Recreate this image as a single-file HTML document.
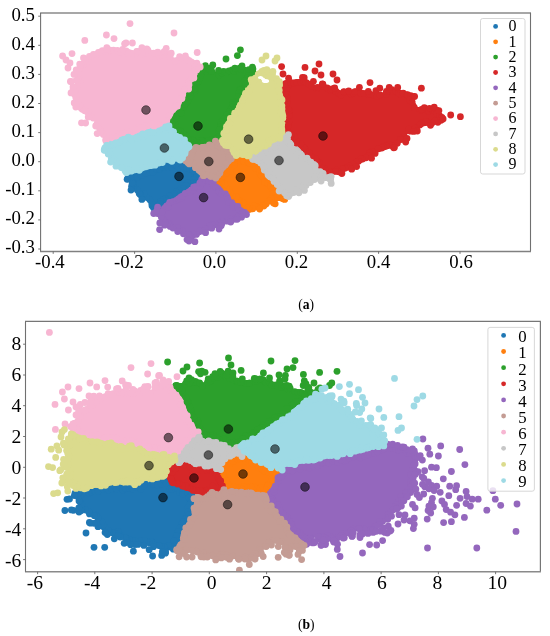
<!DOCTYPE html>
<html lang="en"><head><meta charset="utf-8"><title>Cluster scatter plots</title>
<style>html,body{margin:0;padding:0;background:#fff}svg{display:block}svg text{font-family:"Liberation Serif","Times New Roman",serif;fill:#000}</style></head>
<body>
<svg width="550" height="636" viewBox="0 0 550 636">
<rect width="550" height="636" fill="#fff"/>
<clipPath id="ca"><rect x="40.6" y="12.9" width="489.9" height="238.54999999999998"/></clipPath>
<g clip-path="url(#ca)">
<polygon fill="#1f77b4" stroke="#1f77b4" stroke-width="1.2" stroke-linejoin="round" points="170,200 186,190 200,180 201,178 193,168 184,162 166,163 154,168 138,172 126.5,174.7 127.8,176 127.9,176.1 128,176.3 128.1,176.4 128.2,176.6 128.3,176.8 131.2,186.3 138.9,194 148.8,201.9 148.9,202.1 149,202.2 155,209.1 155.8,209.9 156.2,210.1"/>
<polygon fill="#ff7f0e" stroke="#ff7f0e" stroke-width="1.2" stroke-linejoin="round" points="230,164 223,172 215,180 215,182 226,192 236,203 246.2,211.4 246.3,211.2 246.4,211.1 246.6,210.9 246.7,210.8 246.9,210.7 247.1,210.6 247.2,210.5 249.6,209.8 249.8,209.7 264.5,206.8 273.1,201 273.3,200.9 273.5,200.8 273.7,200.8 273.9,200.7 274.1,200.7 286.2,199.8 286.7,198.6 286.8,198.4 286.9,198.3 278,193 277,187 266,177 260,166 249,158 234,157"/>
<polygon fill="#2ca02c" stroke="#2ca02c" stroke-width="1.2" stroke-linejoin="round" points="195,80 190,90 186,94 180,108 174,113 169,123 176,132 185,138 193,146 206,144 220,140 223,130 227,119 236,108 242,94 245,90 250,79 255.4,72.7 255.2,72.6 255.1,72.5 254.9,72.4 254.8,72.3 254.7,72.2 254.6,72 254.5,71.8 253.4,69.7 250.9,71 250.7,71.1 250.5,71.2 250.3,71.2 250.2,71.2 250,71.2 249.8,71.2 249.6,71.2 249.4,71.1 249.3,71.1 249.1,71 240.9,66.4 230.6,70.2 230.4,70.2 230.2,70.3 230.1,70.3 229.9,70.3 229.7,70.3 222.2,69.3 217.1,71.9 216.9,72 216.7,72 216.5,72.1 216.4,72.1 216.2,72.1 216,72.1 215.8,72.1 215.6,72 215.4,71.9 215.3,71.8 215.1,71.7 214.9,71.6 214.8,71.5 214.7,71.3 214.6,71.2 211.5,65.7 202.8,70 202.7,70.1 202.5,70.2 202.3,70.2 202.1,70.2 201.9,70.2 201.7,70.2 201.5,70.2 201.3,70.1 201.2,70 199.8,69.3 199.6,69.2 199.5,69.2"/>
<polygon fill="#d62728" stroke="#d62728" stroke-width="1.2" stroke-linejoin="round" points="283,96 285,110 285,120 285,133 294,144 304,153 314,162 320,169 327,175 327.1,175 327.1,174.8 327.2,174.7 327.3,174.5 327.4,174.4 327.5,174.2 327.7,174.1 327.8,174 328,173.9 328.2,173.8 328.3,173.8 328.5,173.7 328.7,173.7 328.9,173.7 335.8,173.7 349.5,168.4 366,159.6 377.2,152 377.4,151.9 377.5,151.8 377.7,151.7 394,146.8 397.1,144.1 397.2,144 397.3,143.9 397.5,143.8 404.5,140.1 406.7,134.3 406.8,134.1 406.9,133.9 407,133.8 407.1,133.6 407.2,133.5 407.4,133.4 407.5,133.3 407.7,133.2 416.2,129.3 423.4,125.9 423.5,125.8 423.7,125.7 423.8,125.7 436.7,123.3 442.4,119.5 439.9,113.7 436.9,109.8 430.7,109.8 430.6,109.8 430.4,109.8 430.2,109.7 430,109.7 429.9,109.6 423.8,106.4 418.6,107.7 418.4,107.7 418.2,107.7 418,107.8 417.9,107.7 417.7,107.7 417.5,107.7 417.3,107.6 417.2,107.5 417,107.4 412.6,104.3 412.4,104.2 412.3,104.1 412.2,103.9 412.1,103.8 412,103.6 411.9,103.4 411.8,103.2 411.8,103 411.8,102.8 411.8,102.7 411.8,102.5 411.8,102.3 413.2,97.1 408.8,92.8 400.7,90.7 400.6,90.6 392.1,87.9 385.7,91.6 385.4,91.7 379.2,94.2 379,94.2 378.8,94.3 378.6,94.3 378.4,94.3 378.2,94.3 369.3,92.8 369.2,92.8 362,91.3 355.1,89.9 348.4,92.6 348.2,92.7 348,92.7 347.8,92.8 347.6,92.8 347.4,92.8 347.3,92.7 340.3,91.3 340.1,91.2 339.9,91.1 332.5,87.7 325.8,85.3 314.2,85.3 314,85.3 313.9,85.3 313.7,85.2 313.5,85.2 313.4,85.1 313.2,85 313.1,84.9 305.6,79.3 290.4,80.3 283.7,84.1 283.6,84.2 282.1,84.9 281.9,85 281.8,85 281.6,85.1 281.4,85.1 281.2,85.1 281.2,85.1"/>
<polygon fill="#9467bd" stroke="#9467bd" stroke-width="1.2" stroke-linejoin="round" points="236,203 226,192 215,182 215,180 214,179 201,178 200,180 186,190 170,200 156.2,210.1 157.3,210.7 157.5,210.8 157.7,210.9 157.8,211.1 158,211.2 158.1,211.4 158.2,211.5 158.3,211.7 158.3,211.9 160.2,218.4 164.8,224.9 174.4,228.8 174.6,228.8 174.7,228.9 184.6,234.9 184.8,234.9 184.9,235 190.2,239.5 211.4,228.8 211.5,228.8 218.4,225.8 225.3,221.9 225.5,221.8 225.7,221.7 239.5,217.8 246.3,213.5 246.1,213.2 246.1,213 246,212.8 246,212.7 245.9,212.5 245.9,212.3 246,212.1 246,211.9 246.1,211.7 246.1,211.5 246.2,211.4 246.2,211.4"/>
<polygon fill="#c49c94" stroke="#c49c94" stroke-width="1.2" stroke-linejoin="round" points="187,154 184,162 193,168 201,178 214,179 215,180 223,172 230,164 234,157 229,150 221,146 220,140 206,144 193,146"/>
<polygon fill="#f7b6d2" stroke="#f7b6d2" stroke-width="1.2" stroke-linejoin="round" points="108,142 120,137 134,135 150,129 162,127 169,123 174,113 180,108 186,94 190,90 195,80 199.5,69.2 199.4,69.1 199.3,69 199.2,68.9 199,68.7 198.9,68.5 198.9,68.4 198.8,68.2 198.7,68 198.7,67.8 198.7,67.6 198.7,63.7 192.4,59.2 183,56.3 174.7,58.2 174.5,58.2 174.3,58.2 174.1,58.2 173.9,58.2 173.7,58.2 173.6,58.1 173.4,58 173.2,57.9 173.1,57.8 172.9,57.7 172.8,57.5 172.7,57.4 169.1,51.9 164.1,48.6 157.3,54.6 157.1,54.7 157,54.8 156.8,54.9 156.6,55 156.4,55 156.2,55.1 156.1,55.1 155.9,55.1 155.7,55 155.5,55 155.3,54.9 155.1,54.9 155,54.8 154.8,54.7 154.7,54.5 149.6,49.4 138.5,52.2 138.3,52.3 138.1,52.3 137.9,52.3 137.7,52.2 137.5,52.2 127.9,49.3 118.2,50.3 118,50.3 117.9,50.3 100.5,49.3 93,56.8 92.9,56.9 92.8,57 92.6,57.1 92.5,57.2 92.3,57.3 92.2,57.3 84.6,59.2 78.2,64.7 76.3,76 77.3,83.6 77.3,83.8 77.3,84 77.2,84.2 77.2,84.4 77.1,84.5 77,84.7 76.9,84.9 76.8,85 72.4,90.3 74.2,96.5 74.3,96.7 74.3,96.9 74.3,97.1 74.3,97.3 73.4,103.6 78.9,110 86.7,114.9 86.8,115 94.6,120.8 94.8,121 94.9,121.1 95,121.3 95.1,121.4 95.2,121.6 95.3,121.8 98.2,131.4 104.9,139.1 106.6,140.7 106.7,140.9 106.8,141 106.9,141.2 107,141.3 107,141.5 107.1,141.7 107.1,141.9 107.1,142"/>
<polygon fill="#c7c7c7" stroke="#c7c7c7" stroke-width="1.2" stroke-linejoin="round" points="282,140 272,143 260,152 249,158 260,166 266,177 277,187 278,193 286.9,198.3 286.9,198.3 287,198.2 287.2,198 287.3,197.9 287.4,197.8 287.6,197.7 291.4,195.9 303.3,188.9 313.2,182 313.3,181.9 313.5,181.8 313.7,181.7 313.9,181.7 323.7,179.7 323.9,179.7 330.4,179.1 327.8,177.1 327.6,177 327.5,176.9 327.4,176.8 327.3,176.6 327.2,176.5 327.1,176.3 327,176.1 327,175.9 327,175.7 327,175.6 327,175.4 327,175.2 327.1,175 327,175 320,169 314,162 304,153 294,144 285,133"/>
<polygon fill="#dbdb8d" stroke="#dbdb8d" stroke-width="1.2" stroke-linejoin="round" points="250,79 245,90 242,94 236,108 227,119 223,130 220,140 221,146 229,150 234,157 249,158 260,152 272,143 282,140 285,133 285,120 285,110 283,96 281.2,85.1 281,85.1 280.8,85 280.7,85 280.5,84.9 280.3,84.8 280.2,84.7 280,84.6 279.9,84.5 279.8,84.4 279.7,84.2 279.6,84 276.9,78.7 271.2,72.1 263.1,68.5 258.8,71 257.5,72.3 257.4,72.5 257.2,72.6 257.1,72.7 256.9,72.7 256.7,72.8 256.5,72.9 256.3,72.9 256.1,72.9 256,72.9 255.8,72.8 255.6,72.8 255.4,72.7 255.4,72.7"/>
<polygon fill="#9edae5" stroke="#9edae5" stroke-width="1.2" stroke-linejoin="round" points="138,172 154,168 166,163 184,162 187,154 193,146 185,138 176,132 169,123 162,127 150,129 134,135 120,137 108,142 107.1,142 107.1,142.1 107.1,142.3 107.1,142.4 107,142.6 107,142.8 106.9,143 106.8,143.1 103.3,148.4 103.3,151.4 109.8,157 109.9,157.1 110,157.2 110.1,157.3 116,166.1 124.8,173 124.9,173.1 125.9,174.1 126.5,174.7"/>
<g fill="#1f77b4">
<polygon points="128,175.9 128.1,175.9 128.2,176 128.2,176.2 128.3,176.3 128.4,176.4 128.4,176.6 131.3,186.2 139,193.9 148.9,201.8 149,201.9 149.1,202 155.1,209 155.2,209 169.1,198.8 169.2,198.7 185.2,188.8 198.8,179 199.2,178.2 192,169.1 183.6,163.5 166.3,164.5 154.6,169.4 154.5,169.4 154.4,169.5 138.4,173.5 138.3,173.5"/>
<circle cx="127.1" cy="179.3" r="3.4"/>
<circle cx="132" cy="178.3" r="3.4"/>
<circle cx="132.5" cy="177.4" r="3.4"/>
<circle cx="137.6" cy="177.1" r="3.4"/>
<circle cx="140.9" cy="175.1" r="3.4"/>
<circle cx="142.5" cy="175.5" r="3.4"/>
<circle cx="146.2" cy="173.6" r="3.4"/>
<circle cx="150.2" cy="172.5" r="3.4"/>
<circle cx="152.9" cy="172.2" r="3.4"/>
<circle cx="156.8" cy="169.5" r="3.4"/>
<circle cx="159.5" cy="168.9" r="3.4"/>
<circle cx="163.6" cy="167.5" r="3.4"/>
<circle cx="165.3" cy="165.4" r="3.4"/>
<circle cx="168.1" cy="167.7" r="3.4"/>
<circle cx="171.5" cy="167.4" r="3.4"/>
<circle cx="175" cy="164.9" r="3.4"/>
<circle cx="176.2" cy="165" r="3.4"/>
<circle cx="178.5" cy="167.1" r="3.4"/>
<circle cx="181.3" cy="164.3" r="3.4"/>
<circle cx="182.3" cy="165.9" r="3.4"/>
<circle cx="187.1" cy="166.8" r="3.4"/>
<circle cx="186.8" cy="167.8" r="3.4"/>
<circle cx="190" cy="169.6" r="3.4"/>
<circle cx="192.7" cy="170.1" r="3.4"/>
<circle cx="194.6" cy="174.4" r="3.4"/>
<circle cx="195.1" cy="177.3" r="3.4"/>
<circle cx="196.8" cy="178" r="3.4"/>
<circle cx="196.1" cy="177.6" r="3.4"/>
<circle cx="196.6" cy="177.3" r="3.4"/>
<circle cx="193.8" cy="179.7" r="3.4"/>
<circle cx="193.5" cy="183" r="3.4"/>
<circle cx="190.6" cy="183.5" r="3.4"/>
<circle cx="187.7" cy="182.8" r="3.4"/>
<circle cx="185.9" cy="185.5" r="3.4"/>
<circle cx="183" cy="188.4" r="3.4"/>
<circle cx="179.1" cy="190.2" r="3.4"/>
<circle cx="176.2" cy="191.8" r="3.4"/>
<circle cx="174.3" cy="194.2" r="3.4"/>
<circle cx="173.5" cy="195.6" r="3.4"/>
<circle cx="169.5" cy="196.2" r="3.4"/>
<circle cx="165.4" cy="198.6" r="3.4"/>
<circle cx="163" cy="199.7" r="3.4"/>
<circle cx="160.6" cy="201.4" r="3.4"/>
<circle cx="160.2" cy="204.2" r="3.4"/>
<circle cx="156.2" cy="205.6" r="3.4"/>
<circle cx="153.6" cy="208.1" r="3.4"/>
<circle cx="157.6" cy="208" r="3.4"/>
<circle cx="155" cy="206" r="3.4"/>
<circle cx="152" cy="205.8" r="3.4"/>
<circle cx="151.8" cy="203.4" r="3.4"/>
<circle cx="149.8" cy="199.8" r="3.4"/>
<circle cx="146.5" cy="197.3" r="3.4"/>
<circle cx="143.9" cy="193.6" r="3.4"/>
<circle cx="140.4" cy="194.7" r="3.4"/>
<circle cx="139.2" cy="193.4" r="3.4"/>
<circle cx="137.3" cy="190.1" r="3.4"/>
<circle cx="133.6" cy="187.4" r="3.4"/>
<circle cx="131.6" cy="186.2" r="3.4"/>
<circle cx="133.4" cy="183.6" r="3.4"/>
<circle cx="132.1" cy="182.7" r="3.4"/>
<circle cx="130.3" cy="177.7" r="3.4"/>
<circle cx="127.6" cy="173.1" r="3.4"/>
<circle cx="141.9" cy="199.4" r="3.4"/>
<circle cx="131" cy="190.1" r="3.4"/>
<circle cx="127.7" cy="178.8" r="3.4"/>
</g>
<g fill="#ff7f0e">
<polygon points="234.8,158.6 231.3,164.7 231.2,164.9 231.1,165 224.1,173 224.1,173.1 216.5,180.6 216.5,181.3 227,190.9 227.1,191 237,201.9 247.3,210.3 249.5,209.6 249.7,209.5 264.4,206.6 273.2,200.8 273.3,200.7 273.4,200.6 273.6,200.6 273.7,200.5 273.9,200.5 286,199.6 277.2,194.3 277.1,194.2 277,194.1 276.9,194 276.8,193.9 276.7,193.8 276.7,193.7 276.6,193.5 276.6,193.4 276.5,193.2 275.6,187.8 265,178.1 264.9,178 264.8,177.9 264.7,177.7 258.8,167 248.5,159.5"/>
<circle cx="236.3" cy="161.9" r="3.4"/>
<circle cx="239.4" cy="160.7" r="3.4"/>
<circle cx="240.3" cy="161.4" r="3.4"/>
<circle cx="243.7" cy="161.5" r="3.4"/>
<circle cx="248.3" cy="162.8" r="3.4"/>
<circle cx="248.4" cy="162.4" r="3.4"/>
<circle cx="250" cy="163.3" r="3.4"/>
<circle cx="253.5" cy="164.3" r="3.4"/>
<circle cx="255.3" cy="165.6" r="3.4"/>
<circle cx="257.9" cy="168.6" r="3.4"/>
<circle cx="256.1" cy="168.6" r="3.4"/>
<circle cx="259.6" cy="172.2" r="3.4"/>
<circle cx="261.1" cy="175.3" r="3.4"/>
<circle cx="262" cy="176.1" r="3.4"/>
<circle cx="264.4" cy="182" r="3.4"/>
<circle cx="268" cy="183.5" r="3.4"/>
<circle cx="270.7" cy="185" r="3.4"/>
<circle cx="270.7" cy="186.5" r="3.4"/>
<circle cx="273.7" cy="188.1" r="3.4"/>
<circle cx="272.5" cy="189.3" r="3.4"/>
<circle cx="273.3" cy="193.7" r="3.4"/>
<circle cx="279.3" cy="196" r="3.4"/>
<circle cx="281.9" cy="196.9" r="3.4"/>
<circle cx="282.2" cy="198.2" r="3.4"/>
<circle cx="284.7" cy="199.4" r="3.4"/>
<circle cx="283.2" cy="198.8" r="3.4"/>
<circle cx="284" cy="196.4" r="3.4"/>
<circle cx="282.6" cy="197.5" r="3.4"/>
<circle cx="277.2" cy="197.3" r="3.4"/>
<circle cx="274" cy="199.1" r="3.4"/>
<circle cx="271.2" cy="198.7" r="3.4"/>
<circle cx="269.2" cy="201.1" r="3.4"/>
<circle cx="266.1" cy="203.9" r="3.4"/>
<circle cx="263.7" cy="204.8" r="3.4"/>
<circle cx="263.8" cy="206.1" r="3.4"/>
<circle cx="259.7" cy="207.5" r="3.4"/>
<circle cx="256.4" cy="206.8" r="3.4"/>
<circle cx="254" cy="205.9" r="3.4"/>
<circle cx="252.7" cy="208.9" r="3.4"/>
<circle cx="249" cy="209.6" r="3.4"/>
<circle cx="247.9" cy="208.2" r="3.4"/>
<circle cx="246.5" cy="207.4" r="3.4"/>
<circle cx="242.5" cy="204.1" r="3.4"/>
<circle cx="242.8" cy="202.6" r="3.4"/>
<circle cx="239.6" cy="200.9" r="3.4"/>
<circle cx="238.2" cy="200.6" r="3.4"/>
<circle cx="236.4" cy="197" r="3.4"/>
<circle cx="232.2" cy="196.1" r="3.4"/>
<circle cx="230.4" cy="193" r="3.4"/>
<circle cx="229.3" cy="190.1" r="3.4"/>
<circle cx="226.5" cy="188.2" r="3.4"/>
<circle cx="224.5" cy="185.6" r="3.4"/>
<circle cx="224.7" cy="184.2" r="3.4"/>
<circle cx="221.3" cy="182.3" r="3.4"/>
<circle cx="218.2" cy="180.2" r="3.4"/>
<circle cx="219.8" cy="181.1" r="3.4"/>
<circle cx="217.7" cy="180" r="3.4"/>
<circle cx="220.8" cy="178.6" r="3.4"/>
<circle cx="221.3" cy="177.4" r="3.4"/>
<circle cx="223.3" cy="176" r="3.4"/>
<circle cx="226.8" cy="173.1" r="3.4"/>
<circle cx="228" cy="171.7" r="3.4"/>
<circle cx="230.2" cy="171.2" r="3.4"/>
<circle cx="231.8" cy="166.7" r="3.4"/>
<circle cx="234.1" cy="164.9" r="3.4"/>
<circle cx="234" cy="162.2" r="3.4"/>
<circle cx="234.4" cy="158.9" r="3.4"/>
<circle cx="275.2" cy="203.8" r="3.4"/>
<circle cx="273.5" cy="203" r="3.4"/>
<circle cx="259.6" cy="209.1" r="3.4"/>
</g>
<g fill="#2ca02c">
<polygon points="200.8,70.1 196.4,80.6 196.3,80.7 191.3,90.7 191.3,90.8 191.2,90.9 191.1,91.1 187.3,94.9 181.4,108.6 181.3,108.7 181.2,108.8 181.2,109 181.1,109.1 181,109.2 175.2,114 170.8,122.8 177,130.9 185.8,136.8 186,136.8 186.1,136.9 193.5,144.4 205.7,142.5 218.8,138.8 221.6,129.6 221.6,129.5 225.6,118.5 225.7,118.3 225.7,118.2 225.8,118.1 234.7,107.2 240.6,93.4 240.7,93.2 240.8,93.1 243.7,89.2 248.6,78.4 248.7,78.3 248.8,78.1 248.9,78 254.2,71.8 253.3,70 250.7,71.3 250.5,71.4 250.4,71.4 250.3,71.5 250.1,71.5 250,71.5 249.8,71.5 249.7,71.5 249.5,71.4 249.4,71.4 249.3,71.3 240.9,66.6 230.5,70.4 230.4,70.5 230.2,70.5 230.1,70.5 230,70.5 229.8,70.5 222.3,69.5 216.7,72.3 216.5,72.4 216.4,72.4 216.2,72.5 216.1,72.5 215.9,72.5 215.8,72.5 215.6,72.5 215.5,72.4 215.4,72.4 215.2,72.3 215.1,72.2 215,72.1 214.9,72 214.8,71.9 214.7,71.7 211.4,66 202.7,70.3 202.5,70.4 202.4,70.5 202.2,70.5 202.1,70.5 201.9,70.5 201.8,70.5 201.6,70.5 201.5,70.4 201.3,70.3"/>
<circle cx="199.3" cy="70.9" r="3.4"/>
<circle cx="206" cy="71.4" r="3.4"/>
<circle cx="208.4" cy="69.7" r="3.4"/>
<circle cx="209.6" cy="69.2" r="3.4"/>
<circle cx="211" cy="68.2" r="3.4"/>
<circle cx="209.9" cy="68.1" r="3.4"/>
<circle cx="209.5" cy="69.3" r="3.4"/>
<circle cx="211.6" cy="71.5" r="3.4"/>
<circle cx="219" cy="74.9" r="3.4"/>
<circle cx="221.7" cy="73.1" r="3.4"/>
<circle cx="223.7" cy="71.5" r="3.4"/>
<circle cx="226.4" cy="72.2" r="3.4"/>
<circle cx="229" cy="70.8" r="3.4"/>
<circle cx="232.2" cy="69.8" r="3.4"/>
<circle cx="234.1" cy="71.3" r="3.4"/>
<circle cx="237.7" cy="69.6" r="3.4"/>
<circle cx="240.3" cy="68" r="3.4"/>
<circle cx="239.6" cy="68.4" r="3.4"/>
<circle cx="244.2" cy="70.2" r="3.4"/>
<circle cx="246.4" cy="72.4" r="3.4"/>
<circle cx="252.8" cy="72.2" r="3.4"/>
<circle cx="252.2" cy="73" r="3.4"/>
<circle cx="252.7" cy="70.7" r="3.4"/>
<circle cx="250.9" cy="73.1" r="3.4"/>
<circle cx="248.8" cy="74.4" r="3.4"/>
<circle cx="247.3" cy="78.1" r="3.4"/>
<circle cx="244.3" cy="81.2" r="3.4"/>
<circle cx="245.7" cy="84.1" r="3.4"/>
<circle cx="241.7" cy="88.4" r="3.4"/>
<circle cx="240" cy="89.3" r="3.4"/>
<circle cx="240.4" cy="90.1" r="3.4"/>
<circle cx="238.9" cy="92.9" r="3.4"/>
<circle cx="238.5" cy="96.6" r="3.4"/>
<circle cx="236.2" cy="101.3" r="3.4"/>
<circle cx="233.2" cy="102.5" r="3.4"/>
<circle cx="232.6" cy="104.5" r="3.4"/>
<circle cx="232.6" cy="107.2" r="3.4"/>
<circle cx="230.7" cy="109.7" r="3.4"/>
<circle cx="229.3" cy="111.8" r="3.4"/>
<circle cx="229.3" cy="113.8" r="3.4"/>
<circle cx="226.5" cy="115.2" r="3.4"/>
<circle cx="224" cy="118.6" r="3.4"/>
<circle cx="222" cy="121.4" r="3.4"/>
<circle cx="220.6" cy="125.2" r="3.4"/>
<circle cx="220.7" cy="127" r="3.4"/>
<circle cx="219.3" cy="129.8" r="3.4"/>
<circle cx="218.5" cy="134.5" r="3.4"/>
<circle cx="215.6" cy="138.5" r="3.4"/>
<circle cx="218.9" cy="136.5" r="3.4"/>
<circle cx="216.1" cy="139" r="3.4"/>
<circle cx="212" cy="140.9" r="3.4"/>
<circle cx="210.4" cy="140.2" r="3.4"/>
<circle cx="207.9" cy="140.5" r="3.4"/>
<circle cx="202.2" cy="140.5" r="3.4"/>
<circle cx="201.2" cy="140.5" r="3.4"/>
<circle cx="197.2" cy="142.4" r="3.4"/>
<circle cx="193" cy="142.2" r="3.4"/>
<circle cx="194.5" cy="143.7" r="3.4"/>
<circle cx="193" cy="140.6" r="3.4"/>
<circle cx="190.5" cy="139.5" r="3.4"/>
<circle cx="187.9" cy="138.9" r="3.4"/>
<circle cx="185.8" cy="135.8" r="3.4"/>
<circle cx="183.4" cy="134.2" r="3.4"/>
<circle cx="179.6" cy="132.7" r="3.4"/>
<circle cx="180.1" cy="130.7" r="3.4"/>
<circle cx="178" cy="130.3" r="3.4"/>
<circle cx="175.1" cy="125.6" r="3.4"/>
<circle cx="174.8" cy="122.8" r="3.4"/>
<circle cx="172" cy="121.4" r="3.4"/>
<circle cx="172.5" cy="122.8" r="3.4"/>
<circle cx="173.5" cy="119.7" r="3.4"/>
<circle cx="176.4" cy="118.1" r="3.4"/>
<circle cx="176.5" cy="115.8" r="3.4"/>
<circle cx="177.6" cy="113.7" r="3.4"/>
<circle cx="177.2" cy="111.9" r="3.4"/>
<circle cx="181.4" cy="113" r="3.4"/>
<circle cx="183.8" cy="107.1" r="3.4"/>
<circle cx="185" cy="104.3" r="3.4"/>
<circle cx="186" cy="102.7" r="3.4"/>
<circle cx="187.9" cy="100.8" r="3.4"/>
<circle cx="189" cy="97.5" r="3.4"/>
<circle cx="190.7" cy="96.1" r="3.4"/>
<circle cx="189.4" cy="93" r="3.4"/>
<circle cx="195.5" cy="89.9" r="3.4"/>
<circle cx="194.6" cy="89" r="3.4"/>
<circle cx="195.1" cy="83.4" r="3.4"/>
<circle cx="197.5" cy="82.5" r="3.4"/>
<circle cx="198.5" cy="81.1" r="3.4"/>
<circle cx="199.8" cy="78.3" r="3.4"/>
<circle cx="200.7" cy="75.2" r="3.4"/>
<circle cx="202.4" cy="69.7" r="3.4"/>
<circle cx="200.1" cy="68" r="3.4"/>
<circle cx="205.4" cy="65.7" r="3.4"/>
<circle cx="212.8" cy="65" r="3.4"/>
<circle cx="218.6" cy="70.3" r="3.4"/>
<circle cx="234.9" cy="68.2" r="3.4"/>
<circle cx="248.9" cy="69.6" r="3.4"/>
<circle cx="252.4" cy="67.1" r="3.4"/>
<circle cx="226" cy="59" r="3.4"/>
<circle cx="237.4" cy="55.6" r="3.4"/>
<circle cx="240.4" cy="49.8" r="3.4"/>
<circle cx="242" cy="66" r="3.4"/>
<circle cx="253" cy="69" r="3.4"/>
</g>
<g fill="#d62728">
<polygon points="282.7,84.8 284.5,95.8 284.5,95.8 286.5,109.8 286.5,110 286.5,132.5 295.1,143 315,160.9 315.1,161 321.1,167.9 327.6,173.5 335.7,173.5 349.4,168.2 365.9,159.4 377.2,151.8 377.3,151.7 377.4,151.6 377.6,151.6 393.9,146.7 397,143.9 397.1,143.8 397.2,143.7 397.3,143.7 404.3,139.9 406.6,134 406.7,133.8 406.7,133.7 406.8,133.6 406.9,133.5 407,133.4 407.1,133.3 407.2,133.2 407.4,133.1 416.2,129.1 423.3,125.7 423.5,125.6 423.6,125.6 423.7,125.5 436.6,123.1 442.1,119.4 439.7,113.8 436.8,110 430.6,110 430.5,110 430.3,110 430.2,109.9 430,109.9 429.9,109.8 423.8,106.6 418.4,108 418.2,108 418.1,108 417.9,108 417.8,108 417.7,108 417.5,107.9 417.4,107.9 417.3,107.8 417.1,107.7 412.1,104.2 412,104.1 411.9,104 411.8,103.9 411.7,103.8 411.7,103.7 411.6,103.5 411.5,103.4 411.5,103.2 411.5,103.1 411.5,102.9 411.5,102.8 411.5,102.6 412.9,97.2 408.7,92.9 400.6,90.9 400.5,90.8 392.2,88.1 385.7,91.8 385.5,91.9 379.1,94.4 379,94.4 378.8,94.5 378.7,94.5 378.5,94.5 378.4,94.5 369.3,93 369.2,93 362,91.5 355.1,90.1 348.3,92.9 348.1,92.9 348,93 347.8,93 347.7,93 347.5,93 347.4,93 340.2,91.5 340,91.4 339.9,91.4 332.4,87.9 325.7,85.5 314,85.5 313.9,85.5 313.7,85.5 313.6,85.4 313.5,85.4 313.3,85.3 313.2,85.3 313.1,85.2 305.5,79.5 290.4,80.5 283.7,84.3 283.7,84.3"/>
<circle cx="282.4" cy="84.8" r="3.4"/>
<circle cx="285.9" cy="83.3" r="3.4"/>
<circle cx="288.8" cy="84.5" r="3.4"/>
<circle cx="288.8" cy="82.2" r="3.4"/>
<circle cx="290.5" cy="82.6" r="3.4"/>
<circle cx="293.9" cy="83.1" r="3.4"/>
<circle cx="297" cy="82.5" r="3.4"/>
<circle cx="300.8" cy="82.1" r="3.4"/>
<circle cx="304" cy="81.8" r="3.4"/>
<circle cx="306.2" cy="82.7" r="3.4"/>
<circle cx="308.5" cy="83.8" r="3.4"/>
<circle cx="311.6" cy="86.3" r="3.4"/>
<circle cx="316.8" cy="88.7" r="3.4"/>
<circle cx="317.7" cy="87.4" r="3.4"/>
<circle cx="322.7" cy="86.1" r="3.4"/>
<circle cx="323.4" cy="86.4" r="3.4"/>
<circle cx="327.2" cy="87.9" r="3.4"/>
<circle cx="330.5" cy="89.9" r="3.4"/>
<circle cx="331.9" cy="88.9" r="3.4"/>
<circle cx="336" cy="91.5" r="3.4"/>
<circle cx="338.5" cy="93.1" r="3.4"/>
<circle cx="341.1" cy="95" r="3.4"/>
<circle cx="344" cy="92.2" r="3.4"/>
<circle cx="351" cy="94.2" r="3.4"/>
<circle cx="353" cy="92.9" r="3.4"/>
<circle cx="356.3" cy="91.6" r="3.4"/>
<circle cx="354.9" cy="91.6" r="3.4"/>
<circle cx="360.5" cy="93" r="3.4"/>
<circle cx="363.9" cy="93.4" r="3.4"/>
<circle cx="368.5" cy="94.6" r="3.4"/>
<circle cx="369.7" cy="94.1" r="3.4"/>
<circle cx="373.2" cy="95" r="3.4"/>
<circle cx="377.1" cy="96.2" r="3.4"/>
<circle cx="379.8" cy="94.9" r="3.4"/>
<circle cx="386.3" cy="94.3" r="3.4"/>
<circle cx="386.4" cy="91.5" r="3.4"/>
<circle cx="389.1" cy="90.8" r="3.4"/>
<circle cx="392.8" cy="91.6" r="3.4"/>
<circle cx="391.9" cy="89.7" r="3.4"/>
<circle cx="396.2" cy="91.3" r="3.4"/>
<circle cx="398.6" cy="92.9" r="3.4"/>
<circle cx="400.2" cy="93.9" r="3.4"/>
<circle cx="403.2" cy="93.2" r="3.4"/>
<circle cx="407.2" cy="95.2" r="3.4"/>
<circle cx="407.5" cy="94.7" r="3.4"/>
<circle cx="410.7" cy="95.6" r="3.4"/>
<circle cx="413" cy="96.6" r="3.4"/>
<circle cx="409.7" cy="100.2" r="3.4"/>
<circle cx="413.2" cy="105.9" r="3.4"/>
<circle cx="414.4" cy="107.7" r="3.4"/>
<circle cx="420.3" cy="110.5" r="3.4"/>
<circle cx="422" cy="109.4" r="3.4"/>
<circle cx="424.3" cy="107.6" r="3.4"/>
<circle cx="428.5" cy="110.9" r="3.4"/>
<circle cx="432.8" cy="110.4" r="3.4"/>
<circle cx="436.5" cy="110.1" r="3.4"/>
<circle cx="434.8" cy="110.9" r="3.4"/>
<circle cx="436.9" cy="113.5" r="3.4"/>
<circle cx="439.5" cy="115.6" r="3.4"/>
<circle cx="441.5" cy="117.4" r="3.4"/>
<circle cx="441" cy="120.3" r="3.4"/>
<circle cx="442" cy="117.7" r="3.4"/>
<circle cx="437.9" cy="120.4" r="3.4"/>
<circle cx="437.9" cy="122.3" r="3.4"/>
<circle cx="434.9" cy="121" r="3.4"/>
<circle cx="432" cy="123.1" r="3.4"/>
<circle cx="427.2" cy="122.2" r="3.4"/>
<circle cx="425.9" cy="121.6" r="3.4"/>
<circle cx="421.1" cy="123.2" r="3.4"/>
<circle cx="419.7" cy="125.1" r="3.4"/>
<circle cx="416.4" cy="128.1" r="3.4"/>
<circle cx="415" cy="128.1" r="3.4"/>
<circle cx="410.5" cy="131.2" r="3.4"/>
<circle cx="408.7" cy="129.2" r="3.4"/>
<circle cx="404" cy="136.5" r="3.4"/>
<circle cx="402.3" cy="139.1" r="3.4"/>
<circle cx="404.2" cy="139.3" r="3.4"/>
<circle cx="400.4" cy="139.4" r="3.4"/>
<circle cx="397.3" cy="143.3" r="3.4"/>
<circle cx="393.7" cy="145.4" r="3.4"/>
<circle cx="392.2" cy="145.8" r="3.4"/>
<circle cx="389.1" cy="144.7" r="3.4"/>
<circle cx="386.3" cy="145.8" r="3.4"/>
<circle cx="383.5" cy="146.8" r="3.4"/>
<circle cx="381.7" cy="148" r="3.4"/>
<circle cx="378.3" cy="148.8" r="3.4"/>
<circle cx="375.1" cy="153.4" r="3.4"/>
<circle cx="371.8" cy="151.6" r="3.4"/>
<circle cx="369.7" cy="152.9" r="3.4"/>
<circle cx="368.5" cy="156" r="3.4"/>
<circle cx="366" cy="157.8" r="3.4"/>
<circle cx="362.6" cy="159.1" r="3.4"/>
<circle cx="360.8" cy="158.9" r="3.4"/>
<circle cx="358.5" cy="161.3" r="3.4"/>
<circle cx="356.3" cy="162.1" r="3.4"/>
<circle cx="353" cy="164.1" r="3.4"/>
<circle cx="349.3" cy="166.1" r="3.4"/>
<circle cx="346.9" cy="167.3" r="3.4"/>
<circle cx="344.8" cy="168.3" r="3.4"/>
<circle cx="342.4" cy="168.9" r="3.4"/>
<circle cx="338.9" cy="171.8" r="3.4"/>
<circle cx="336.8" cy="170.1" r="3.4"/>
<circle cx="335.5" cy="171.4" r="3.4"/>
<circle cx="330" cy="173.1" r="3.4"/>
<circle cx="329.2" cy="173.6" r="3.4"/>
<circle cx="329" cy="171.7" r="3.4"/>
<circle cx="324.8" cy="168.8" r="3.4"/>
<circle cx="322.7" cy="168.3" r="3.4"/>
<circle cx="321.2" cy="167.9" r="3.4"/>
<circle cx="319" cy="162.4" r="3.4"/>
<circle cx="316.7" cy="161" r="3.4"/>
<circle cx="315.7" cy="158.8" r="3.4"/>
<circle cx="311" cy="156.4" r="3.4"/>
<circle cx="309.4" cy="152.7" r="3.4"/>
<circle cx="306.2" cy="152.9" r="3.4"/>
<circle cx="304.8" cy="148.2" r="3.4"/>
<circle cx="303.9" cy="147.8" r="3.4"/>
<circle cx="300.9" cy="143.8" r="3.4"/>
<circle cx="296.2" cy="143" r="3.4"/>
<circle cx="296.2" cy="140.3" r="3.4"/>
<circle cx="294" cy="136.7" r="3.4"/>
<circle cx="290.8" cy="136.6" r="3.4"/>
<circle cx="291.1" cy="134.3" r="3.4"/>
<circle cx="286.8" cy="131.9" r="3.4"/>
<circle cx="289.3" cy="132.6" r="3.4"/>
<circle cx="287.9" cy="126.5" r="3.4"/>
<circle cx="288.3" cy="126.1" r="3.4"/>
<circle cx="288.8" cy="121.7" r="3.4"/>
<circle cx="286.7" cy="118.8" r="3.4"/>
<circle cx="289.4" cy="115.1" r="3.4"/>
<circle cx="289" cy="110.7" r="3.4"/>
<circle cx="288.1" cy="108.8" r="3.4"/>
<circle cx="286" cy="105.1" r="3.4"/>
<circle cx="287.1" cy="103" r="3.4"/>
<circle cx="285.7" cy="100.1" r="3.4"/>
<circle cx="287.6" cy="97.8" r="3.4"/>
<circle cx="285.6" cy="93" r="3.4"/>
<circle cx="286.4" cy="90.7" r="3.4"/>
<circle cx="286.7" cy="88.6" r="3.4"/>
<circle cx="284.6" cy="84.7" r="3.4"/>
<circle cx="288.6" cy="78.2" r="3.4"/>
<circle cx="304.2" cy="77.7" r="3.4"/>
<circle cx="302.5" cy="77.5" r="3.4"/>
<circle cx="313.4" cy="81.3" r="3.4"/>
<circle cx="322.3" cy="83.8" r="3.4"/>
<circle cx="322.9" cy="84.1" r="3.4"/>
<circle cx="334.7" cy="88" r="3.4"/>
<circle cx="343.9" cy="91.6" r="3.4"/>
<circle cx="348.7" cy="91" r="3.4"/>
<circle cx="359.4" cy="87.3" r="3.4"/>
<circle cx="368.3" cy="91.3" r="3.4"/>
<circle cx="375.9" cy="90.7" r="3.4"/>
<circle cx="379.8" cy="88.2" r="3.4"/>
<circle cx="389.2" cy="87.5" r="3.4"/>
<circle cx="397.7" cy="87.5" r="3.4"/>
<circle cx="414.6" cy="96.5" r="3.4"/>
<circle cx="412.2" cy="102.1" r="3.4"/>
<circle cx="429.5" cy="108.3" r="3.4"/>
<circle cx="434.2" cy="107.2" r="3.4"/>
<circle cx="438.9" cy="110.6" r="3.4"/>
<circle cx="443.1" cy="119" r="3.4"/>
<circle cx="430.5" cy="125.3" r="3.4"/>
<circle cx="417.3" cy="131" r="3.4"/>
<circle cx="413.7" cy="131.4" r="3.4"/>
<circle cx="407" cy="138.5" r="3.4"/>
<circle cx="405.7" cy="142" r="3.4"/>
<circle cx="393.7" cy="147.8" r="3.4"/>
<circle cx="394.4" cy="147.4" r="3.4"/>
<circle cx="371.5" cy="158.2" r="3.4"/>
<circle cx="351.7" cy="169.2" r="3.4"/>
<circle cx="356.6" cy="166.6" r="3.4"/>
<circle cx="341.9" cy="173.5" r="3.4"/>
<circle cx="281.6" cy="66.6" r="3.4"/>
<circle cx="283" cy="74" r="3.4"/>
<circle cx="305" cy="67.4" r="3.4"/>
<circle cx="319" cy="64" r="3.4"/>
<circle cx="315" cy="71" r="3.4"/>
<circle cx="321" cy="75" r="3.4"/>
<circle cx="333" cy="74" r="3.4"/>
<circle cx="337" cy="80" r="3.4"/>
<circle cx="370" cy="82.6" r="3.4"/>
<circle cx="421.4" cy="88.2" r="3.4"/>
<circle cx="450.7" cy="115" r="3.4"/>
<circle cx="460.4" cy="116.7" r="3.4"/>
</g>
<g fill="#9467bd">
<polygon points="157.9,210.8 157.9,210.8 158,210.9 158.2,211 158.2,211.2 158.3,211.3 158.4,211.4 158.4,211.6 160.4,218.3 165,224.8 174.6,228.6 174.7,228.7 174.8,228.7 184.8,234.7 184.9,234.8 185,234.8 190.2,239.2 211.3,228.7 211.4,228.6 218.3,225.7 225.3,221.7 225.4,221.6 225.6,221.6 239.4,217.6 246,213.5 245.8,213 235.1,204.2 234.9,204 224.9,193.1 214,183.1 213.9,183 213.8,182.9 213.7,182.7 213.6,182.6 213.6,182.5 213.5,182.3 213.5,182.2 213.5,182 213.5,180.6 213.3,180.5 201.9,179.6 201.3,180.7 201.3,180.8 201.2,180.9 201.1,181 201,181.1 200.9,181.2 186.9,191.2 186.8,191.3 170.8,201.2"/>
<circle cx="157.6" cy="213.5" r="3.4"/>
<circle cx="160.5" cy="212.7" r="3.4"/>
<circle cx="164.4" cy="208.5" r="3.4"/>
<circle cx="166.4" cy="206.6" r="3.4"/>
<circle cx="168.4" cy="207.3" r="3.4"/>
<circle cx="169.7" cy="202.3" r="3.4"/>
<circle cx="173.1" cy="201.6" r="3.4"/>
<circle cx="176.4" cy="200.3" r="3.4"/>
<circle cx="178.5" cy="198.9" r="3.4"/>
<circle cx="181" cy="198.6" r="3.4"/>
<circle cx="182.6" cy="196.3" r="3.4"/>
<circle cx="185.3" cy="193.5" r="3.4"/>
<circle cx="190.3" cy="192.4" r="3.4"/>
<circle cx="192.9" cy="190.2" r="3.4"/>
<circle cx="193.6" cy="187.2" r="3.4"/>
<circle cx="195.8" cy="186.6" r="3.4"/>
<circle cx="199.9" cy="186.2" r="3.4"/>
<circle cx="199.9" cy="182.9" r="3.4"/>
<circle cx="201.8" cy="179.4" r="3.4"/>
<circle cx="202.2" cy="182.7" r="3.4"/>
<circle cx="205.3" cy="180.5" r="3.4"/>
<circle cx="208.8" cy="181.3" r="3.4"/>
<circle cx="213" cy="182.7" r="3.4"/>
<circle cx="213.4" cy="180.8" r="3.4"/>
<circle cx="211.6" cy="181.7" r="3.4"/>
<circle cx="213.4" cy="186.4" r="3.4"/>
<circle cx="215.7" cy="187.3" r="3.4"/>
<circle cx="218.6" cy="190.5" r="3.4"/>
<circle cx="219.1" cy="192" r="3.4"/>
<circle cx="221.3" cy="194" r="3.4"/>
<circle cx="225.3" cy="193.8" r="3.4"/>
<circle cx="226.9" cy="196.6" r="3.4"/>
<circle cx="227.9" cy="199.1" r="3.4"/>
<circle cx="229" cy="202.6" r="3.4"/>
<circle cx="233" cy="205.4" r="3.4"/>
<circle cx="234" cy="207.5" r="3.4"/>
<circle cx="237.8" cy="206.4" r="3.4"/>
<circle cx="239.1" cy="210.3" r="3.4"/>
<circle cx="240.8" cy="211" r="3.4"/>
<circle cx="243.2" cy="213.9" r="3.4"/>
<circle cx="246.5" cy="214.5" r="3.4"/>
<circle cx="244.6" cy="212.3" r="3.4"/>
<circle cx="242.4" cy="213" r="3.4"/>
<circle cx="240.5" cy="215.1" r="3.4"/>
<circle cx="238.5" cy="216.6" r="3.4"/>
<circle cx="234.7" cy="219.2" r="3.4"/>
<circle cx="231.7" cy="220.1" r="3.4"/>
<circle cx="230.7" cy="219.2" r="3.4"/>
<circle cx="227" cy="221.2" r="3.4"/>
<circle cx="222" cy="221.1" r="3.4"/>
<circle cx="221.7" cy="223.9" r="3.4"/>
<circle cx="219.4" cy="223.2" r="3.4"/>
<circle cx="215.2" cy="224.5" r="3.4"/>
<circle cx="212.6" cy="224.5" r="3.4"/>
<circle cx="211.7" cy="228.2" r="3.4"/>
<circle cx="209.7" cy="225.9" r="3.4"/>
<circle cx="205" cy="228.6" r="3.4"/>
<circle cx="203.3" cy="231.2" r="3.4"/>
<circle cx="199.5" cy="231.1" r="3.4"/>
<circle cx="196.4" cy="234.4" r="3.4"/>
<circle cx="193.4" cy="234.1" r="3.4"/>
<circle cx="191.3" cy="236.9" r="3.4"/>
<circle cx="189.9" cy="239.5" r="3.4"/>
<circle cx="190" cy="237.5" r="3.4"/>
<circle cx="189.7" cy="236" r="3.4"/>
<circle cx="188.1" cy="234.6" r="3.4"/>
<circle cx="183.4" cy="233.8" r="3.4"/>
<circle cx="182.4" cy="230.6" r="3.4"/>
<circle cx="179.5" cy="230.3" r="3.4"/>
<circle cx="177.4" cy="227.4" r="3.4"/>
<circle cx="172.9" cy="228.1" r="3.4"/>
<circle cx="170.1" cy="226.4" r="3.4"/>
<circle cx="169.6" cy="223.5" r="3.4"/>
<circle cx="167.9" cy="222.9" r="3.4"/>
<circle cx="164.9" cy="222.4" r="3.4"/>
<circle cx="163.6" cy="221.2" r="3.4"/>
<circle cx="163.2" cy="219.5" r="3.4"/>
<circle cx="161.3" cy="217" r="3.4"/>
<circle cx="161.9" cy="212.2" r="3.4"/>
<circle cx="157.6" cy="207.2" r="3.4"/>
<circle cx="241.5" cy="217.2" r="3.4"/>
<circle cx="230.7" cy="222" r="3.4"/>
<circle cx="237.2" cy="219.3" r="3.4"/>
<circle cx="221.1" cy="225.7" r="3.4"/>
<circle cx="205.6" cy="232.7" r="3.4"/>
<circle cx="194.9" cy="241.7" r="3.4"/>
<circle cx="187" cy="239.6" r="3.4"/>
<circle cx="177.7" cy="231.5" r="3.4"/>
<circle cx="164.5" cy="225.2" r="3.4"/>
<circle cx="159.8" cy="222.9" r="3.4"/>
<circle cx="153.7" cy="213.5" r="3.4"/>
<circle cx="156.6" cy="211.1" r="3.4"/>
<circle cx="159.6" cy="229.6" r="3.4"/>
<circle cx="189" cy="241" r="3.4"/>
<circle cx="219" cy="229" r="3.4"/>
</g>
<g fill="#c49c94">
<polygon points="193.8,147.4 188.3,154.7 185.8,161.4 193.8,166.8 194,166.8 194.1,166.9 194.2,167.1 201.8,176.6 214.1,177.5 214.3,177.5 214.4,177.6 214.6,177.6 214.7,177.7 214.8,177.7 214.9,177.8 215,177.9 221.9,171 228.8,163.1 232.2,157.1 228,151.2 220.3,147.3 220.2,147.3 220.1,147.2 220,147.1 219.9,147 219.8,146.9 219.7,146.8 219.6,146.6 219.6,146.5 219.6,146.4 219.5,146.2 218.8,141.9 206.4,145.4 206.2,145.5"/>
<circle cx="196" cy="147.4" r="3.4"/>
<circle cx="198.6" cy="148.2" r="3.4"/>
<circle cx="203.2" cy="148.4" r="3.4"/>
<circle cx="203.3" cy="147.3" r="3.4"/>
<circle cx="207.7" cy="148" r="3.4"/>
<circle cx="209.4" cy="145" r="3.4"/>
<circle cx="212.7" cy="145.9" r="3.4"/>
<circle cx="217.7" cy="145.6" r="3.4"/>
<circle cx="218" cy="143.2" r="3.4"/>
<circle cx="215.4" cy="141.1" r="3.4"/>
<circle cx="218.6" cy="146" r="3.4"/>
<circle cx="220.8" cy="147.4" r="3.4"/>
<circle cx="223.9" cy="151.6" r="3.4"/>
<circle cx="226.6" cy="150.8" r="3.4"/>
<circle cx="228.1" cy="152.1" r="3.4"/>
<circle cx="229.5" cy="156.1" r="3.4"/>
<circle cx="231.3" cy="158.8" r="3.4"/>
<circle cx="228.8" cy="156.1" r="3.4"/>
<circle cx="229.1" cy="157.5" r="3.4"/>
<circle cx="228.6" cy="160.8" r="3.4"/>
<circle cx="226.5" cy="163.1" r="3.4"/>
<circle cx="225.8" cy="164" r="3.4"/>
<circle cx="223" cy="167.1" r="3.4"/>
<circle cx="221.4" cy="168" r="3.4"/>
<circle cx="219.4" cy="169.5" r="3.4"/>
<circle cx="219.9" cy="173.1" r="3.4"/>
<circle cx="217.9" cy="175.2" r="3.4"/>
<circle cx="214.6" cy="176.1" r="3.4"/>
<circle cx="215.8" cy="178.1" r="3.4"/>
<circle cx="211.5" cy="176.4" r="3.4"/>
<circle cx="210.3" cy="176.1" r="3.4"/>
<circle cx="205.8" cy="174.4" r="3.4"/>
<circle cx="203.4" cy="175.7" r="3.4"/>
<circle cx="204.3" cy="175.3" r="3.4"/>
<circle cx="201.7" cy="172" r="3.4"/>
<circle cx="199" cy="170.2" r="3.4"/>
<circle cx="195.4" cy="167.7" r="3.4"/>
<circle cx="193.5" cy="163.2" r="3.4"/>
<circle cx="189.3" cy="163.9" r="3.4"/>
<circle cx="188.9" cy="162.8" r="3.4"/>
<circle cx="185.5" cy="160.7" r="3.4"/>
<circle cx="187.7" cy="162.6" r="3.4"/>
<circle cx="189.9" cy="159.9" r="3.4"/>
<circle cx="188.7" cy="156.2" r="3.4"/>
<circle cx="192.2" cy="154.4" r="3.4"/>
<circle cx="191.9" cy="151.9" r="3.4"/>
<circle cx="193.5" cy="149.3" r="3.4"/>
</g>
<g fill="#f7b6d2">
<polygon points="78.4,64.8 76.5,76 77.5,83.8 77.5,84 77.5,84.1 77.5,84.3 77.4,84.4 77.4,84.6 77.3,84.7 77.2,84.8 77.2,85 72.7,90.4 74.4,96.6 74.5,96.7 74.5,96.9 74.5,97.1 74.5,97.2 73.6,103.5 79,109.8 86.8,114.7 86.9,114.8 94.9,120.8 95,120.9 95.1,121 95.2,121.1 95.3,121.3 95.4,121.4 95.4,121.6 98.3,131.3 105.1,139 106.6,140.5 107.7,140.5 119.4,135.6 119.5,135.6 119.7,135.5 119.8,135.5 133.6,133.5 149.5,127.6 149.6,127.6 149.8,127.5 161.5,125.6 167.9,121.9 172.7,112.3 172.7,112.2 172.8,112.1 172.9,112 173,111.8 178.8,107.1 184.6,93.4 184.7,93.3 184.8,93.2 184.8,93 184.9,92.9 188.8,89.1 193.6,79.4 198.5,67.7 198.5,63.8 192.3,59.4 182.9,56.5 174.3,58.5 174.2,58.5 174,58.5 173.9,58.5 173.7,58.5 173.6,58.4 173.4,58.4 173.3,58.3 173.2,58.3 173.1,58.2 172.9,58.1 172.8,58 172.8,57.8 168.9,52.1 164.1,48.9 157,55.1 156.9,55.2 156.7,55.3 156.6,55.4 156.5,55.4 156.3,55.5 156.2,55.5 156,55.5 155.9,55.5 155.7,55.5 155.6,55.4 155.4,55.4 155.3,55.3 155.2,55.3 155.1,55.2 154.9,55.1 149.5,49.7 138.4,52.5 138.2,52.5 138,52.5 137.9,52.5 137.7,52.5 137.6,52.4 127.9,49.5 118.1,50.5 118,50.5 117.9,50.5 100.6,49.5 93.1,57.1 93,57.2 92.9,57.2 92.7,57.3 92.6,57.4 92.5,57.4 92.4,57.5 84.7,59.4"/>
<circle cx="79.7" cy="64.1" r="3.4"/>
<circle cx="83" cy="64.5" r="3.4"/>
<circle cx="84.8" cy="61.6" r="3.4"/>
<circle cx="85.3" cy="59.4" r="3.4"/>
<circle cx="88.2" cy="61.1" r="3.4"/>
<circle cx="89.8" cy="58.1" r="3.4"/>
<circle cx="95.6" cy="55.9" r="3.4"/>
<circle cx="96.5" cy="54.4" r="3.4"/>
<circle cx="98.4" cy="52.5" r="3.4"/>
<circle cx="102.4" cy="50.6" r="3.4"/>
<circle cx="101" cy="52" r="3.4"/>
<circle cx="105.5" cy="50.9" r="3.4"/>
<circle cx="108.1" cy="51.5" r="3.4"/>
<circle cx="109.4" cy="49.8" r="3.4"/>
<circle cx="113.5" cy="50.2" r="3.4"/>
<circle cx="117.4" cy="50.5" r="3.4"/>
<circle cx="120.5" cy="52.6" r="3.4"/>
<circle cx="123.5" cy="53.1" r="3.4"/>
<circle cx="126.1" cy="51" r="3.4"/>
<circle cx="128.9" cy="53.5" r="3.4"/>
<circle cx="133.2" cy="53.9" r="3.4"/>
<circle cx="136.2" cy="53.1" r="3.4"/>
<circle cx="141.3" cy="53.3" r="3.4"/>
<circle cx="143.7" cy="53.8" r="3.4"/>
<circle cx="146.5" cy="52.9" r="3.4"/>
<circle cx="147.9" cy="50.2" r="3.4"/>
<circle cx="148.9" cy="52.3" r="3.4"/>
<circle cx="149.1" cy="53.5" r="3.4"/>
<circle cx="151.2" cy="55.9" r="3.4"/>
<circle cx="159.3" cy="56.4" r="3.4"/>
<circle cx="161.2" cy="55" r="3.4"/>
<circle cx="163.3" cy="52.5" r="3.4"/>
<circle cx="164.8" cy="51.3" r="3.4"/>
<circle cx="165" cy="51.4" r="3.4"/>
<circle cx="167.7" cy="54.2" r="3.4"/>
<circle cx="169.4" cy="54.3" r="3.4"/>
<circle cx="170.1" cy="56.6" r="3.4"/>
<circle cx="175.3" cy="61.5" r="3.4"/>
<circle cx="180.9" cy="59.9" r="3.4"/>
<circle cx="181.7" cy="58.5" r="3.4"/>
<circle cx="185" cy="59.9" r="3.4"/>
<circle cx="186.8" cy="59.2" r="3.4"/>
<circle cx="188.8" cy="60.4" r="3.4"/>
<circle cx="190.8" cy="62.2" r="3.4"/>
<circle cx="194.3" cy="63.8" r="3.4"/>
<circle cx="196.9" cy="63.2" r="3.4"/>
<circle cx="196.9" cy="64.6" r="3.4"/>
<circle cx="195.5" cy="66.8" r="3.4"/>
<circle cx="196.7" cy="69.9" r="3.4"/>
<circle cx="194.1" cy="71.2" r="3.4"/>
<circle cx="194.3" cy="73.1" r="3.4"/>
<circle cx="193.9" cy="77.9" r="3.4"/>
<circle cx="191.9" cy="78.5" r="3.4"/>
<circle cx="189" cy="81.3" r="3.4"/>
<circle cx="188.9" cy="84.2" r="3.4"/>
<circle cx="187.2" cy="88" r="3.4"/>
<circle cx="188.6" cy="89" r="3.4"/>
<circle cx="184.5" cy="89.7" r="3.4"/>
<circle cx="182.2" cy="95.5" r="3.4"/>
<circle cx="181.9" cy="98.5" r="3.4"/>
<circle cx="180.4" cy="99.1" r="3.4"/>
<circle cx="177.8" cy="101" r="3.4"/>
<circle cx="175.8" cy="105.3" r="3.4"/>
<circle cx="177" cy="106.2" r="3.4"/>
<circle cx="174.6" cy="107.8" r="3.4"/>
<circle cx="172.8" cy="109.8" r="3.4"/>
<circle cx="169.8" cy="113" r="3.4"/>
<circle cx="168.8" cy="116.1" r="3.4"/>
<circle cx="167.1" cy="118.5" r="3.4"/>
<circle cx="166.7" cy="120.8" r="3.4"/>
<circle cx="166.2" cy="122.2" r="3.4"/>
<circle cx="162.5" cy="122.5" r="3.4"/>
<circle cx="162.2" cy="123.8" r="3.4"/>
<circle cx="159.7" cy="125.7" r="3.4"/>
<circle cx="156.9" cy="124.3" r="3.4"/>
<circle cx="154.3" cy="126.9" r="3.4"/>
<circle cx="151.7" cy="124" r="3.4"/>
<circle cx="147.2" cy="126" r="3.4"/>
<circle cx="144.7" cy="125.9" r="3.4"/>
<circle cx="143.1" cy="127.9" r="3.4"/>
<circle cx="138.4" cy="128" r="3.4"/>
<circle cx="135.4" cy="130" r="3.4"/>
<circle cx="133.5" cy="130.4" r="3.4"/>
<circle cx="132" cy="131.9" r="3.4"/>
<circle cx="129" cy="131.7" r="3.4"/>
<circle cx="127.5" cy="131.5" r="3.4"/>
<circle cx="125.1" cy="133.2" r="3.4"/>
<circle cx="120.3" cy="133.3" r="3.4"/>
<circle cx="117.2" cy="134.1" r="3.4"/>
<circle cx="116.4" cy="137.1" r="3.4"/>
<circle cx="113.3" cy="138.4" r="3.4"/>
<circle cx="109.2" cy="137.3" r="3.4"/>
<circle cx="106.4" cy="137.7" r="3.4"/>
<circle cx="105.7" cy="139.7" r="3.4"/>
<circle cx="106.5" cy="135.5" r="3.4"/>
<circle cx="103.3" cy="134.4" r="3.4"/>
<circle cx="101.7" cy="131.5" r="3.4"/>
<circle cx="100.9" cy="131.8" r="3.4"/>
<circle cx="100" cy="129.7" r="3.4"/>
<circle cx="98.4" cy="126.6" r="3.4"/>
<circle cx="97" cy="123.9" r="3.4"/>
<circle cx="93.1" cy="118.1" r="3.4"/>
<circle cx="91.1" cy="116.3" r="3.4"/>
<circle cx="90.4" cy="114.9" r="3.4"/>
<circle cx="88.4" cy="111.7" r="3.4"/>
<circle cx="84.8" cy="110.7" r="3.4"/>
<circle cx="82.3" cy="109.2" r="3.4"/>
<circle cx="79.9" cy="105.8" r="3.4"/>
<circle cx="76.5" cy="104.5" r="3.4"/>
<circle cx="74.2" cy="102.9" r="3.4"/>
<circle cx="76.3" cy="104.3" r="3.4"/>
<circle cx="75.8" cy="97.5" r="3.4"/>
<circle cx="74.3" cy="93.9" r="3.4"/>
<circle cx="73.1" cy="89.6" r="3.4"/>
<circle cx="75.4" cy="90.7" r="3.4"/>
<circle cx="75.6" cy="89.7" r="3.4"/>
<circle cx="77.2" cy="86.2" r="3.4"/>
<circle cx="78.6" cy="82.7" r="3.4"/>
<circle cx="80.2" cy="80.5" r="3.4"/>
<circle cx="78.4" cy="77.7" r="3.4"/>
<circle cx="77.8" cy="74.8" r="3.4"/>
<circle cx="79.3" cy="72.9" r="3.4"/>
<circle cx="79.9" cy="68" r="3.4"/>
<circle cx="80.7" cy="65" r="3.4"/>
<circle cx="83.5" cy="58" r="3.4"/>
<circle cx="89.4" cy="56.3" r="3.4"/>
<circle cx="93.4" cy="54.4" r="3.4"/>
<circle cx="106.8" cy="47.7" r="3.4"/>
<circle cx="107.2" cy="49.3" r="3.4"/>
<circle cx="124.6" cy="43.8" r="3.4"/>
<circle cx="122.7" cy="49.3" r="3.4"/>
<circle cx="136.8" cy="51.5" r="3.4"/>
<circle cx="137.7" cy="51.5" r="3.4"/>
<circle cx="146.8" cy="49" r="3.4"/>
<circle cx="141.9" cy="47.7" r="3.4"/>
<circle cx="153.7" cy="53.1" r="3.4"/>
<circle cx="157.7" cy="52.1" r="3.4"/>
<circle cx="166.2" cy="48.3" r="3.4"/>
<circle cx="171.2" cy="53.2" r="3.4"/>
<circle cx="179.6" cy="56.7" r="3.4"/>
<circle cx="185.4" cy="55.9" r="3.4"/>
<circle cx="197.2" cy="52.5" r="3.4"/>
<circle cx="200.2" cy="67" r="3.4"/>
<circle cx="106" cy="141" r="3.4"/>
<circle cx="97.2" cy="133.6" r="3.4"/>
<circle cx="95.7" cy="126" r="3.4"/>
<circle cx="88.2" cy="117.1" r="3.4"/>
<circle cx="81.5" cy="122.8" r="3.4"/>
<circle cx="75.8" cy="107" r="3.4"/>
<circle cx="71" cy="92.9" r="3.4"/>
<circle cx="71.3" cy="81.7" r="3.4"/>
<circle cx="76.1" cy="80.3" r="3.4"/>
<circle cx="76.2" cy="69.8" r="3.4"/>
<circle cx="130" cy="23.6" r="3.4"/>
<circle cx="106.4" cy="35" r="3.4"/>
<circle cx="114" cy="38.6" r="3.4"/>
<circle cx="84.8" cy="40.4" r="3.4"/>
<circle cx="126" cy="43" r="3.4"/>
<circle cx="132.4" cy="43" r="3.4"/>
<circle cx="72" cy="53.6" r="3.4"/>
<circle cx="62.6" cy="56" r="3.4"/>
<circle cx="66" cy="60" r="3.4"/>
<circle cx="70" cy="63" r="3.4"/>
<circle cx="68" cy="68" r="3.4"/>
<circle cx="74" cy="74.4" r="3.4"/>
<circle cx="70.4" cy="81.4" r="3.4"/>
<circle cx="73" cy="87" r="3.4"/>
<circle cx="85.6" cy="123" r="3.4"/>
<circle cx="174" cy="33" r="3.4"/>
</g>
<g fill="#c7c7c7">
<polygon points="285.4,135.9 283.4,140.6 283.3,140.7 283.2,140.8 283.2,141 283.1,141.1 282.9,141.2 282.8,141.3 282.7,141.3 282.6,141.4 282.4,141.4 272.7,144.4 260.9,153.2 260.7,153.3 251.8,158.2 260.9,164.8 261,164.9 261.1,165 261.2,165.1 261.2,165.2 261.3,165.3 267.2,176.1 278,185.9 278.1,186 278.2,186.1 278.3,186.2 278.3,186.3 278.4,186.5 278.4,186.6 278.5,186.8 279.4,192.1 288.1,197.3 291.3,195.7 303.2,188.7 313.1,181.8 313.3,181.7 313.4,181.6 313.6,181.6 313.7,181.5 323.7,179.5 323.9,179.5 329.9,178.9 326.1,176.2 326,176.1 319,170.1 318.9,170.1 318.9,170 312.9,163 293,145.1 292.9,145 292.8,144.9"/>
<circle cx="282.6" cy="136.9" r="3.4"/>
<circle cx="285.7" cy="136.9" r="3.4"/>
<circle cx="286.4" cy="141.3" r="3.4"/>
<circle cx="288" cy="142.8" r="3.4"/>
<circle cx="290.8" cy="144.6" r="3.4"/>
<circle cx="292.7" cy="149.1" r="3.4"/>
<circle cx="294.8" cy="150.7" r="3.4"/>
<circle cx="298.2" cy="154.4" r="3.4"/>
<circle cx="301.5" cy="155.2" r="3.4"/>
<circle cx="302" cy="157.1" r="3.4"/>
<circle cx="307" cy="158.1" r="3.4"/>
<circle cx="308.3" cy="160.8" r="3.4"/>
<circle cx="310.9" cy="162.1" r="3.4"/>
<circle cx="313.7" cy="164.3" r="3.4"/>
<circle cx="315.2" cy="165.7" r="3.4"/>
<circle cx="315.7" cy="170.3" r="3.4"/>
<circle cx="320.1" cy="171.7" r="3.4"/>
<circle cx="323.1" cy="173.5" r="3.4"/>
<circle cx="321.9" cy="176.6" r="3.4"/>
<circle cx="326.2" cy="177.7" r="3.4"/>
<circle cx="330.1" cy="179.2" r="3.4"/>
<circle cx="331.2" cy="183.4" r="3.4"/>
<circle cx="331.1" cy="176.6" r="3.4"/>
<circle cx="329.6" cy="177.1" r="3.4"/>
<circle cx="324.1" cy="177.4" r="3.4"/>
<circle cx="320.1" cy="178" r="3.4"/>
<circle cx="317.3" cy="177.3" r="3.4"/>
<circle cx="314.5" cy="179.5" r="3.4"/>
<circle cx="310.3" cy="182.4" r="3.4"/>
<circle cx="309.3" cy="182.5" r="3.4"/>
<circle cx="306" cy="185.5" r="3.4"/>
<circle cx="303.6" cy="185.5" r="3.4"/>
<circle cx="300.8" cy="187.6" r="3.4"/>
<circle cx="298.7" cy="187.3" r="3.4"/>
<circle cx="296.2" cy="189.7" r="3.4"/>
<circle cx="293.7" cy="192.5" r="3.4"/>
<circle cx="290.5" cy="193.4" r="3.4"/>
<circle cx="288.5" cy="196.5" r="3.4"/>
<circle cx="288.7" cy="195.7" r="3.4"/>
<circle cx="286.6" cy="195.7" r="3.4"/>
<circle cx="284.5" cy="192.7" r="3.4"/>
<circle cx="280" cy="190" r="3.4"/>
<circle cx="279.1" cy="191.1" r="3.4"/>
<circle cx="280.1" cy="187.3" r="3.4"/>
<circle cx="277.2" cy="184.5" r="3.4"/>
<circle cx="274.1" cy="181.4" r="3.4"/>
<circle cx="273.4" cy="178.1" r="3.4"/>
<circle cx="272.7" cy="178" r="3.4"/>
<circle cx="268.9" cy="175.2" r="3.4"/>
<circle cx="268" cy="174.4" r="3.4"/>
<circle cx="268.8" cy="171.8" r="3.4"/>
<circle cx="264.3" cy="170" r="3.4"/>
<circle cx="263.5" cy="166.6" r="3.4"/>
<circle cx="260.7" cy="162.9" r="3.4"/>
<circle cx="257.8" cy="160.7" r="3.4"/>
<circle cx="255.5" cy="158.9" r="3.4"/>
<circle cx="254" cy="159.4" r="3.4"/>
<circle cx="252.7" cy="157.3" r="3.4"/>
<circle cx="252.7" cy="159.2" r="3.4"/>
<circle cx="256.2" cy="159.4" r="3.4"/>
<circle cx="259.2" cy="157.7" r="3.4"/>
<circle cx="260.7" cy="154.9" r="3.4"/>
<circle cx="262" cy="153" r="3.4"/>
<circle cx="267.7" cy="152.4" r="3.4"/>
<circle cx="266.9" cy="151" r="3.4"/>
<circle cx="271.1" cy="148.4" r="3.4"/>
<circle cx="272.6" cy="148.5" r="3.4"/>
<circle cx="275.2" cy="147.3" r="3.4"/>
<circle cx="277.8" cy="142.5" r="3.4"/>
<circle cx="282.3" cy="142.9" r="3.4"/>
<circle cx="285.5" cy="139.1" r="3.4"/>
<circle cx="287.5" cy="138.8" r="3.4"/>
<circle cx="288.4" cy="134.6" r="3.4"/>
<circle cx="330.6" cy="179.4" r="3.4"/>
<circle cx="321.1" cy="181" r="3.4"/>
<circle cx="304.4" cy="190.4" r="3.4"/>
<circle cx="298.9" cy="192.8" r="3.4"/>
</g>
<g fill="#dbdb8d">
<polygon points="257.1,73 251.3,79.8 246.4,90.6 246.3,90.8 246.2,90.9 243.3,94.8 237.4,108.6 237.3,108.7 237.2,108.8 237.2,108.9 228.3,119.8 224.4,130.5 221.5,140.1 222.4,145 229.7,148.7 229.8,148.7 229.9,148.8 230,148.9 230.1,149 230.2,149.1 234.8,155.6 248.7,156.5 259.2,150.7 271.1,141.8 271.2,141.7 271.3,141.7 271.4,141.6 271.6,141.6 280.9,138.8 283.5,132.7 283.5,110.1 281.5,96.2 279.6,84.5 276.7,78.8 271.1,72.2 263.1,68.7 258.9,71.2"/>
<circle cx="258.7" cy="74" r="3.4"/>
<circle cx="261.9" cy="71.4" r="3.4"/>
<circle cx="264" cy="70.4" r="3.4"/>
<circle cx="263" cy="72.3" r="3.4"/>
<circle cx="267.9" cy="71.4" r="3.4"/>
<circle cx="270.2" cy="72.5" r="3.4"/>
<circle cx="272.5" cy="74.5" r="3.4"/>
<circle cx="272.2" cy="76.9" r="3.4"/>
<circle cx="276.5" cy="78.6" r="3.4"/>
<circle cx="276.9" cy="81.2" r="3.4"/>
<circle cx="277.7" cy="82.2" r="3.4"/>
<circle cx="279.6" cy="85" r="3.4"/>
<circle cx="277.9" cy="89.2" r="3.4"/>
<circle cx="278.7" cy="90.7" r="3.4"/>
<circle cx="279.6" cy="95.1" r="3.4"/>
<circle cx="279.6" cy="96.9" r="3.4"/>
<circle cx="282" cy="99.9" r="3.4"/>
<circle cx="279.2" cy="102.6" r="3.4"/>
<circle cx="281.9" cy="105.8" r="3.4"/>
<circle cx="282" cy="108.9" r="3.4"/>
<circle cx="281" cy="112.3" r="3.4"/>
<circle cx="282.9" cy="115.9" r="3.4"/>
<circle cx="282.8" cy="118.3" r="3.4"/>
<circle cx="280.6" cy="122.6" r="3.4"/>
<circle cx="281.6" cy="125.1" r="3.4"/>
<circle cx="281.8" cy="129.5" r="3.4"/>
<circle cx="281.4" cy="130" r="3.4"/>
<circle cx="282" cy="132.1" r="3.4"/>
<circle cx="279.9" cy="136.1" r="3.4"/>
<circle cx="279.7" cy="138.2" r="3.4"/>
<circle cx="279.6" cy="136.4" r="3.4"/>
<circle cx="274.5" cy="139" r="3.4"/>
<circle cx="272" cy="139.1" r="3.4"/>
<circle cx="268.8" cy="140.6" r="3.4"/>
<circle cx="268.5" cy="143.9" r="3.4"/>
<circle cx="265.3" cy="146.1" r="3.4"/>
<circle cx="261" cy="145.4" r="3.4"/>
<circle cx="258.8" cy="148.7" r="3.4"/>
<circle cx="256" cy="150.7" r="3.4"/>
<circle cx="252.9" cy="150.5" r="3.4"/>
<circle cx="250.6" cy="151.5" r="3.4"/>
<circle cx="249.2" cy="155.5" r="3.4"/>
<circle cx="247.7" cy="155.9" r="3.4"/>
<circle cx="243.8" cy="153" r="3.4"/>
<circle cx="240.7" cy="152.8" r="3.4"/>
<circle cx="239.7" cy="153.6" r="3.4"/>
<circle cx="236.2" cy="155.6" r="3.4"/>
<circle cx="236.2" cy="153.6" r="3.4"/>
<circle cx="234.1" cy="152.5" r="3.4"/>
<circle cx="232.9" cy="149.7" r="3.4"/>
<circle cx="228.1" cy="145.6" r="3.4"/>
<circle cx="226.8" cy="145.3" r="3.4"/>
<circle cx="223.4" cy="143" r="3.4"/>
<circle cx="225.4" cy="145.2" r="3.4"/>
<circle cx="222.4" cy="140.5" r="3.4"/>
<circle cx="223.7" cy="139.6" r="3.4"/>
<circle cx="224.9" cy="137.6" r="3.4"/>
<circle cx="223.8" cy="133.4" r="3.4"/>
<circle cx="226" cy="130.5" r="3.4"/>
<circle cx="226.5" cy="126.6" r="3.4"/>
<circle cx="229.4" cy="123.6" r="3.4"/>
<circle cx="230.3" cy="121.7" r="3.4"/>
<circle cx="230.4" cy="118.3" r="3.4"/>
<circle cx="233.2" cy="117.8" r="3.4"/>
<circle cx="234.9" cy="114.8" r="3.4"/>
<circle cx="234.7" cy="113.2" r="3.4"/>
<circle cx="237.8" cy="110.6" r="3.4"/>
<circle cx="239.3" cy="108.3" r="3.4"/>
<circle cx="240.3" cy="105.2" r="3.4"/>
<circle cx="242" cy="103.2" r="3.4"/>
<circle cx="242.5" cy="100.4" r="3.4"/>
<circle cx="243.9" cy="97.7" r="3.4"/>
<circle cx="245.5" cy="93.5" r="3.4"/>
<circle cx="248.2" cy="94" r="3.4"/>
<circle cx="249.2" cy="91.3" r="3.4"/>
<circle cx="250.1" cy="88.3" r="3.4"/>
<circle cx="252.2" cy="84.7" r="3.4"/>
<circle cx="251.2" cy="79.6" r="3.4"/>
<circle cx="253.3" cy="81.7" r="3.4"/>
<circle cx="255.4" cy="78.2" r="3.4"/>
<circle cx="258.2" cy="74.7" r="3.4"/>
<circle cx="266.8" cy="69.7" r="3.4"/>
<circle cx="272.9" cy="71.4" r="3.4"/>
<circle cx="279.4" cy="81.7" r="3.4"/>
<circle cx="266" cy="56" r="3.4"/>
<circle cx="262" cy="60" r="3.4"/>
<circle cx="277" cy="58" r="3.4"/>
<circle cx="275" cy="61" r="3.4"/>
</g>
<g fill="#9edae5">
<polygon points="106.8,143.5 103.5,148.5 103.5,151.3 110,156.9 110.1,157 110.2,157.1 110.2,157.2 116.1,166 124.9,172.8 125.1,172.9 125.5,173.4 137.6,170.5 153.5,166.6 165.4,161.6 165.6,161.6 165.7,161.5 165.9,161.5 182.9,160.6 185.6,153.5 185.7,153.3 185.7,153.2 185.8,153.1 191,146.1 184,139.2 175.2,133.2 175,133.2 174.9,133 174.8,132.9 168.6,124.9 162.7,128.3 162.6,128.4 162.5,128.4 162.4,128.5 162.2,128.5 150.4,130.5 134.5,136.4 134.4,136.5 134.2,136.5 120.4,138.5 108.6,143.4 108.4,143.4 108.3,143.5 108.1,143.5 108,143.5"/>
<circle cx="106.7" cy="145.5" r="3.4"/>
<circle cx="111.5" cy="144.8" r="3.4"/>
<circle cx="113.6" cy="144.5" r="3.4"/>
<circle cx="115.9" cy="143" r="3.4"/>
<circle cx="119.7" cy="142" r="3.4"/>
<circle cx="121.9" cy="140.1" r="3.4"/>
<circle cx="124.8" cy="139.2" r="3.4"/>
<circle cx="128.3" cy="137.2" r="3.4"/>
<circle cx="131.1" cy="138.9" r="3.4"/>
<circle cx="132.1" cy="139.9" r="3.4"/>
<circle cx="136.4" cy="138" r="3.4"/>
<circle cx="138.2" cy="137.4" r="3.4"/>
<circle cx="143.2" cy="136.7" r="3.4"/>
<circle cx="142.8" cy="133.9" r="3.4"/>
<circle cx="146.7" cy="133.7" r="3.4"/>
<circle cx="148.3" cy="132.6" r="3.4"/>
<circle cx="150.6" cy="132.2" r="3.4"/>
<circle cx="154.2" cy="132.6" r="3.4"/>
<circle cx="159.3" cy="131" r="3.4"/>
<circle cx="162.4" cy="129.6" r="3.4"/>
<circle cx="165.3" cy="130" r="3.4"/>
<circle cx="165.6" cy="126.8" r="3.4"/>
<circle cx="168.6" cy="127.2" r="3.4"/>
<circle cx="169" cy="125.9" r="3.4"/>
<circle cx="168.5" cy="127.5" r="3.4"/>
<circle cx="171.3" cy="131.1" r="3.4"/>
<circle cx="173.6" cy="131.8" r="3.4"/>
<circle cx="175.6" cy="136.2" r="3.4"/>
<circle cx="176.6" cy="136.3" r="3.4"/>
<circle cx="179.7" cy="137.3" r="3.4"/>
<circle cx="182.4" cy="139.8" r="3.4"/>
<circle cx="184.5" cy="140" r="3.4"/>
<circle cx="186.1" cy="144.2" r="3.4"/>
<circle cx="188.4" cy="145.3" r="3.4"/>
<circle cx="188.2" cy="146.8" r="3.4"/>
<circle cx="189" cy="146.7" r="3.4"/>
<circle cx="187.4" cy="147.9" r="3.4"/>
<circle cx="185.2" cy="150.1" r="3.4"/>
<circle cx="185" cy="153.5" r="3.4"/>
<circle cx="182" cy="156.4" r="3.4"/>
<circle cx="179.7" cy="159.4" r="3.4"/>
<circle cx="182.6" cy="157.8" r="3.4"/>
<circle cx="180.2" cy="160" r="3.4"/>
<circle cx="176.8" cy="158.1" r="3.4"/>
<circle cx="172.3" cy="159.8" r="3.4"/>
<circle cx="171.9" cy="161.3" r="3.4"/>
<circle cx="167.1" cy="159.4" r="3.4"/>
<circle cx="162.3" cy="162.5" r="3.4"/>
<circle cx="161.4" cy="161.5" r="3.4"/>
<circle cx="158.7" cy="163.1" r="3.4"/>
<circle cx="155.1" cy="165.2" r="3.4"/>
<circle cx="150.1" cy="165.1" r="3.4"/>
<circle cx="148.4" cy="165.8" r="3.4"/>
<circle cx="144.8" cy="166.2" r="3.4"/>
<circle cx="141.1" cy="167.3" r="3.4"/>
<circle cx="139.3" cy="170.3" r="3.4"/>
<circle cx="136.7" cy="168.5" r="3.4"/>
<circle cx="131" cy="171.2" r="3.4"/>
<circle cx="128.5" cy="169.6" r="3.4"/>
<circle cx="126.4" cy="172.5" r="3.4"/>
<circle cx="126.6" cy="172.4" r="3.4"/>
<circle cx="125.2" cy="170.9" r="3.4"/>
<circle cx="122.6" cy="167.5" r="3.4"/>
<circle cx="121.2" cy="167.5" r="3.4"/>
<circle cx="116" cy="166.2" r="3.4"/>
<circle cx="116.1" cy="163.1" r="3.4"/>
<circle cx="116.8" cy="161.9" r="3.4"/>
<circle cx="113.5" cy="159.3" r="3.4"/>
<circle cx="111.3" cy="158.8" r="3.4"/>
<circle cx="110.1" cy="154.4" r="3.4"/>
<circle cx="108.2" cy="154" r="3.4"/>
<circle cx="104.5" cy="150.3" r="3.4"/>
<circle cx="104.2" cy="149.9" r="3.4"/>
<circle cx="104.9" cy="148" r="3.4"/>
<circle cx="107.1" cy="145.6" r="3.4"/>
<circle cx="110.6" cy="162.1" r="3.4"/>
</g>
<g fill="#000" fill-opacity="0.55" stroke="#000" stroke-opacity="0.5" stroke-width="0.9">
<circle cx="146" cy="110" r="4.35"/>
<circle cx="198" cy="126" r="4.35"/>
<circle cx="248.6" cy="139.2" r="4.35"/>
<circle cx="323" cy="136" r="4.35"/>
<circle cx="164.4" cy="148" r="4.35"/>
<circle cx="208.8" cy="161.5" r="4.35"/>
<circle cx="279" cy="160.5" r="4.35"/>
<circle cx="179" cy="176.4" r="4.35"/>
<circle cx="240.4" cy="177.4" r="4.35"/>
<circle cx="203.6" cy="197.6" r="4.35"/>
</g>
<g fill="#fff"><ellipse cx="260.5" cy="77.6" rx="2.6" ry="1.5"/><ellipse cx="265.5" cy="81" rx="3.6" ry="2"/><ellipse cx="263" cy="79" rx="2" ry="1.6"/></g>
</g>
<rect x="480.5" y="18.5" width="44.5" height="155.5" rx="2.2" fill="#fff" fill-opacity="0.8" stroke="#d2d2d2" stroke-width="0.9"/>
<circle cx="495.6" cy="26.4" r="2.4" fill="#1f77b4"/>
<text x="508.4" y="31.1" font-size="16">0</text>
<circle cx="495.6" cy="41.8" r="2.4" fill="#ff7f0e"/>
<text x="508.4" y="46.5" font-size="16">1</text>
<circle cx="495.6" cy="57.1" r="2.4" fill="#2ca02c"/>
<text x="508.4" y="61.8" font-size="16">2</text>
<circle cx="495.6" cy="72.5" r="2.4" fill="#d62728"/>
<text x="508.4" y="77.2" font-size="16">3</text>
<circle cx="495.6" cy="87.8" r="2.4" fill="#9467bd"/>
<text x="508.4" y="92.5" font-size="16">4</text>
<circle cx="495.6" cy="103.2" r="2.4" fill="#c49c94"/>
<text x="508.4" y="107.9" font-size="16">5</text>
<circle cx="495.6" cy="118.6" r="2.4" fill="#f7b6d2"/>
<text x="508.4" y="123.3" font-size="16">6</text>
<circle cx="495.6" cy="133.9" r="2.4" fill="#c7c7c7"/>
<text x="508.4" y="138.6" font-size="16">7</text>
<circle cx="495.6" cy="149.3" r="2.4" fill="#dbdb8d"/>
<text x="508.4" y="154" font-size="16">8</text>
<circle cx="495.6" cy="164.6" r="2.4" fill="#9edae5"/>
<text x="508.4" y="169.3" font-size="16">9</text>
<line x1="40.1" y1="12.9" x2="531" y2="12.9" stroke="#8a8a8a" stroke-width="1.5"/><line x1="530.5" y1="12.9" x2="530.5" y2="251.45" stroke="#707070" stroke-width="1.1"/><line x1="40.1" y1="251.45" x2="531" y2="251.45" stroke="#808080" stroke-width="1.4"/><line x1="40.6" y1="12.9" x2="40.6" y2="251.45" stroke="#6c6c6c" stroke-width="1.05"/>
<text x="34.9" y="20.9" font-size="18.8" text-anchor="end">0.5</text>
<text x="34.9" y="49.9" font-size="18.8" text-anchor="end">0.4</text>
<text x="34.9" y="79" font-size="18.8" text-anchor="end">0.3</text>
<text x="34.9" y="108" font-size="18.8" text-anchor="end">0.2</text>
<text x="34.9" y="137.1" font-size="18.8" text-anchor="end">0.1</text>
<text x="34.9" y="166.1" font-size="18.8" text-anchor="end">0.0</text>
<text x="34.9" y="195.1" font-size="18.8" text-anchor="end">-0.1</text>
<text x="34.9" y="224.2" font-size="18.8" text-anchor="end">-0.2</text>
<text x="34.9" y="253.2" font-size="18.8" text-anchor="end">-0.3</text>
<text x="49.9" y="268.4" font-size="18.8" text-anchor="middle">-0.4</text>
<text x="128.8" y="268.4" font-size="18.8" text-anchor="middle">-0.2</text>
<text x="214.4" y="268.4" font-size="18.8" text-anchor="middle">0.0</text>
<text x="296.5" y="268.4" font-size="18.8" text-anchor="middle">0.2</text>
<text x="378.6" y="268.4" font-size="18.8" text-anchor="middle">0.4</text>
<text x="461.1" y="268.4" font-size="18.8" text-anchor="middle">0.6</text>
<g stroke="#666" stroke-width="0.9"><line x1="38.2" y1="16.2" x2="40.6" y2="16.2"/><line x1="38.2" y1="45.3" x2="40.6" y2="45.3"/><line x1="38.2" y1="74.4" x2="40.6" y2="74.4"/><line x1="38.2" y1="103.5" x2="40.6" y2="103.5"/><line x1="38.2" y1="132.6" x2="40.6" y2="132.6"/><line x1="38.2" y1="161.7" x2="40.6" y2="161.7"/><line x1="38.2" y1="190.8" x2="40.6" y2="190.8"/><line x1="38.2" y1="219.9" x2="40.6" y2="219.9"/><line x1="38.2" y1="249" x2="40.6" y2="249"/><line x1="53.2" y1="251.45" x2="53.2" y2="253.85"/><line x1="134.6" y1="251.45" x2="134.6" y2="253.85"/><line x1="215.9" y1="251.45" x2="215.9" y2="253.85"/><line x1="297.3" y1="251.45" x2="297.3" y2="253.85"/><line x1="378.6" y1="251.45" x2="378.6" y2="253.85"/><line x1="460" y1="251.45" x2="460" y2="253.85"/></g>
<text x="306.2" y="308.6" font-size="13.6" text-anchor="middle">(<tspan font-weight="bold">a</tspan>)</text>
<clipPath id="cb"><rect x="25.5" y="321.4" width="514.9" height="250.4"/></clipPath>
<g clip-path="url(#cb)">
<polygon fill="#1f77b4" stroke="#1f77b4" stroke-width="1.2" stroke-linejoin="round" points="180,540 182,530 189,520 191,514 193,504 195,494 189,492 179,488 169,484 167,478 159,480 147,482 135,486 119,485 102.7,487 86.3,490 76,490 76,490.1 76,490.3 75.9,490.5 75.9,490.6 75.8,490.8 75.7,491 75.7,491.1 75.5,491.3 75.4,491.4 75.4,491.5 76.3,499 80.1,509.6 91,515.5 91.2,515.7 98.2,520.6 98.3,520.7 98.5,520.9 98.6,521 98.7,521.2 98.8,521.3 98.9,521.5 98.9,521.7 100.7,528.2 109.2,534.7 118.7,534.7 118.9,534.7 119.1,534.7 119.3,534.8 119.4,534.8 119.6,534.9 119.8,535 119.9,535.1 120,535.2 120.2,535.4 125.7,541.8 141.2,543.7 141.2,543.7 155.1,545.7 155.2,545.7 155.4,545.8 155.6,545.9 155.8,545.9 165.1,551.5 170.3,548.9 170.5,548.8 170.6,548.8 170.8,548.7 171,548.7 171.1,548.7 173.6,548.7 173.8,548.7 174,548.7 174.2,548.8 174.4,548.9 174.5,548.9 174.6,549"/>
<polygon fill="#ff7f0e" stroke="#ff7f0e" stroke-width="1.2" stroke-linejoin="round" points="237,456 229,460 221,465 219,472 223,480 224,486 229,490 237,490 249,489 259,492 267,494 269,490 275,484 274,478 279,472 277,468 271,469 261,465 251,460 245,455"/>
<polygon fill="#2ca02c" stroke="#2ca02c" stroke-width="1.2" stroke-linejoin="round" points="183,400 187,412 194,424 200,434 205,439 215,440 225,444 233,447 238,445 243,442 255,436 265,429 273,424 285,416 295,408 305,400 312.9,394.7 312.3,394.1 304.7,391.3 292.9,389.3 292.7,389.2 292.5,389.2 282.6,385.2 262.1,378.4 255.6,381.1 255.4,381.2 255.3,381.3 255.1,381.3 254.9,381.3 247,381.3 246.9,381.3 246.7,381.3 234.8,379.3 234.7,379.3 234.5,379.2 228.7,377.3 228.6,377.2 228.4,377.1 228.3,377 228.1,376.9 228,376.8 222.7,371.5 213.7,375.1 206.2,382.6 206.1,382.8 205.9,382.9 205.8,383 205.6,383 205.4,383.1 205.2,383.2 205.1,383.2 204.9,383.2 204.7,383.2 204.5,383.2 204.3,383.1 204.1,383.1 194.9,379.4 185.4,382.2 175.9,386 175.7,386.5 175.6,386.7 175.5,386.8 175.4,387 175.3,387.1 175.1,387.2 175,387.3 174.8,387.4 174.6,387.5 174.5,387.5 174.4,387.5"/>
<polygon fill="#d62728" stroke="#d62728" stroke-width="1.2" stroke-linejoin="round" points="169,484 179,488 189,492 195,494 203,496 211,491 219,491 224,486 223,480 219,472 215,468 205,468 195,467 187,463 178,460 176,462 168,470 167,478"/>
<polygon fill="#9467bd" stroke="#9467bd" stroke-width="1.2" stroke-linejoin="round" points="274,478 275,484 269,490 267,494 270,502 279,514 287,524 295,534 303,541 304.5,542.5 304.5,542.5 304.7,542.4 304.8,542.3 305,542.3 305.2,542.2 305.4,542.2 305.5,542.2 305.7,542.2 305.9,542.2 306.1,542.2 306.2,542.3 306.4,542.3 306.6,542.4 309.6,544.2 313.5,538 313.6,537.8 313.7,537.7 313.9,537.5 314,537.4 314.2,537.3 314.3,537.2 314.5,537.1 314.7,537.1 314.9,537.1 315.1,537.1 315.3,537.1 315.5,537.1 315.6,537.1 315.8,537.2 316,537.3 316.2,537.4 316.3,537.5 316.5,537.6 319.2,540.3 323.9,537.2 324.1,537.1 324.2,537 324.4,536.9 324.6,536.9 324.8,536.8 324.9,536.8 325.1,536.8 325.3,536.9 325.5,536.9 325.7,537 325.8,537 326,537.1 326.1,537.2 332.2,541.9 343,537.5 354.7,530.6 354.8,530.5 355,530.4 355.2,530.4 355.3,530.3 355.5,530.3 355.7,530.3 355.9,530.3 366.9,531.7 376.9,528.3 388.1,519.1 396.9,507.7 404.4,496.4 404.5,496.2 404.6,496 404.8,495.9 414.6,488.4 413.2,477.3 413.2,477.1 413.2,476.9 413.3,476.7 413.3,476.5 417.7,462.9 415.9,452.1 397.8,447.8 397.6,447.7 397.4,447.7 390.7,444.7 386.9,444.3 386.8,444.3 386.6,444.2 385.5,443.9 379,448 367.3,451.6 350.7,455 334,458.7 321,459 315,463 305,463 297,466 287,467 279,472"/>
<polygon fill="#c49c94" stroke="#c49c94" stroke-width="1.2" stroke-linejoin="round" points="193,504 191,514 189,520 182,530 180,540 174.6,549 174.7,549 174.9,549.2 175,549.3 175.1,549.4 175.2,549.6 175.3,549.8 176,551.2 181.2,555.5 188.2,551.9 188.4,551.9 188.5,551.8 188.7,551.8 188.9,551.8 189.1,551.7 189.3,551.8 189.5,551.8 189.6,551.8 201.3,555.7 213.1,557.7 224.8,556.7 225,556.7 225.2,556.7 225.3,556.7 245,560.7 252.5,558.8 259.1,555 263.8,547.5 263.9,547.3 264,547.2 264.2,547 264.3,546.9 264.5,546.8 264.7,546.7 274.3,542.9 274.5,542.8 274.7,542.8 274.9,542.7 275.1,542.7 275.3,542.7 275.5,542.8 283,544.7 283.2,544.7 283.4,544.8 283.5,544.9 283.7,545 283.8,545.1 283.9,545.2 284.1,545.3 284.2,545.5 284.2,545.6 284.3,545.8 287.3,553.4 291.7,547.6 291.8,547.5 291.9,547.3 292.1,547.2 292.2,547.1 292.4,547 292.6,547 292.7,546.9 292.9,546.9 293.1,546.9 293.3,546.9 293.5,546.9 293.7,546.9 293.9,547 294,547.1 300.7,550.4 303.7,547.5 303.7,544.1 303.7,543.9 303.7,543.7 303.8,543.5 303.8,543.3 303.9,543.2 304,543 304.1,542.9 304.2,542.7 304.4,542.6 304.5,542.5 303,541 295,534 287,524 279,514 270,502 267,494 259,492 249,489 237,490 229,490 224,486 219,491 211,491 203,496 195,494"/>
<polygon fill="#f7b6d2" stroke="#f7b6d2" stroke-width="1.2" stroke-linejoin="round" points="83,437 105,440 125,445 133,444 145,449 157,452 169,454 178,457 183,448 191,441 200,434 194,424 187,412 183,400 174.4,387.5 174.3,387.5 174.1,387.6 173.9,387.6 173.7,387.5 173.5,387.5 173.4,387.5 173.2,387.4 173,387.3 172.9,387.2 172.7,387.1 172.6,387 172.5,386.8 172.4,386.7 172.3,386.5 172,385.8 167.7,382.4 159.6,384.7 151.9,390 151.7,390.1 151.5,390.2 151.4,390.2 151.2,390.3 151,390.3 150.8,390.3 137,389.8 125.1,390.3 125,390.3 117.1,390.3 108.4,392.2 99.7,396.6 90.8,402.5 83,408.9 77.1,418.6 71.7,429.5 71.3,431.3 71.2,431.4 71.2,431.6"/>
<polygon fill="#c7c7c7" stroke="#c7c7c7" stroke-width="1.2" stroke-linejoin="round" points="191,441 183,448 178,457 176,462 178,460 187,463 195,467 205,468 215,468 219,472 221,465 229,460 237,456 245,455 242,453 238,445 233,447 225,444 215,440 205,439 200,434"/>
<polygon fill="#dbdb8d" stroke="#dbdb8d" stroke-width="1.2" stroke-linejoin="round" points="86.3,490 102.7,487 119,485 135,486 147,482 159,480 167,478 168,470 176,462 178,457 169,454 157,452 145,449 133,444 125,445 105,440 83,437 71.2,431.6 69.3,438.3 67.3,446.2 65.3,460.4 69.2,484.3 75.2,488.5 75.3,488.6 75.5,488.8 75.6,488.9 75.7,489.1 75.8,489.2 75.8,489.4 75.9,489.6 75.9,489.7 76,489.9 76,490"/>
<polygon fill="#9edae5" stroke="#9edae5" stroke-width="1.2" stroke-linejoin="round" points="305,400 295,408 285,416 273,424 265,429 255,436 243,442 238,445 242,453 245,455 251,460 261,465 271,469 277,468 279,472 287,467 297,466 305,463 315,463 321,459 334,458.7 350.7,455 367.3,451.6 379,448 385.5,443.9 383.4,443.3 383.2,443.3 383,443.2 382.9,443.1 382.7,443 382.6,442.9 382.5,442.8 382.4,442.6 382.3,442.5 376.9,433.8 370.3,425.6 358.8,422.3 358.7,422.2 358.5,422.2 358.3,422.1 358.2,422 358,421.8 357.9,421.7 357.8,421.5 352.1,412.9 341.3,406.1 341.2,406 331.2,398.5 331,398.3 330.9,398.2 330.8,398.1 330.7,397.9 330.6,397.7 330.5,397.6 330.5,397.4 330.2,396.1 326,398.9 325.9,399 325.7,399.1 325.5,399.1 325.3,399.2 325.2,399.2 325,399.2 324.8,399.2 324.6,399.2 324.4,399.1 324.3,399.1 324.1,399 316.7,395.3 314.2,395.3 314.1,395.3 313.9,395.3 313.7,395.2 313.5,395.2 313.4,395.1 313.2,395 313,394.9 312.9,394.7 312.9,394.7"/>
<g fill="#1f77b4">
<polygon points="75.6,491.5 75.6,491.5 76.5,499 80.2,509.5 91.1,515.4 91.3,515.5 98.5,520.6 98.6,520.7 98.7,520.8 98.8,520.9 98.9,521 98.9,521.1 99,521.3 99,521.4 100.9,528.1 109.3,534.5 119,534.5 119.1,534.5 119.3,534.5 119.4,534.6 119.6,534.6 119.7,534.7 119.8,534.7 119.9,534.8 120,534.9 120.1,535 125.8,541.6 141.2,543.5 141.2,543.5 155.2,545.5 155.4,545.5 155.5,545.6 155.6,545.6 155.8,545.7 165.1,551.3 170.3,548.7 170.5,548.6 170.6,548.6 170.7,548.5 170.9,548.5 171,548.5 173.2,548.5 178.6,539.5 180.5,529.7 180.6,529.6 180.6,529.4 180.7,529.3 180.8,529.1 187.6,519.3 189.5,513.6 193.3,495 188.5,493.4 188.4,493.4 168.4,485.4 168.3,485.3 168.2,485.3 168.1,485.2 168,485.1 167.9,485 167.8,484.9 167.7,484.7 167.6,484.6 167.6,484.5 166,479.8 159.4,481.5 159.2,481.5 147.4,483.5 135.5,487.4 135.3,487.5 135.2,487.5 135.1,487.5 134.9,487.5 119,486.5 102.9,488.5 86.6,491.5 86.4,491.5 86.3,491.5"/>
<circle cx="75.5" cy="494.6" r="3.4"/>
<circle cx="80" cy="491.4" r="3.4"/>
<circle cx="81.8" cy="493.9" r="3.4"/>
<circle cx="85.5" cy="491.9" r="3.4"/>
<circle cx="88.8" cy="493.1" r="3.4"/>
<circle cx="91.4" cy="492.1" r="3.4"/>
<circle cx="94.5" cy="490.9" r="3.4"/>
<circle cx="95.7" cy="491.7" r="3.4"/>
<circle cx="98.3" cy="491.4" r="3.4"/>
<circle cx="102.8" cy="488.9" r="3.4"/>
<circle cx="105.8" cy="488.6" r="3.4"/>
<circle cx="108.4" cy="490" r="3.4"/>
<circle cx="111.6" cy="489" r="3.4"/>
<circle cx="114.9" cy="487.3" r="3.4"/>
<circle cx="116.3" cy="488.9" r="3.4"/>
<circle cx="119.6" cy="486.9" r="3.4"/>
<circle cx="122.8" cy="490.1" r="3.4"/>
<circle cx="125.3" cy="488.6" r="3.4"/>
<circle cx="129.4" cy="488.6" r="3.4"/>
<circle cx="132.3" cy="489.1" r="3.4"/>
<circle cx="136.2" cy="487.4" r="3.4"/>
<circle cx="140.8" cy="489.2" r="3.4"/>
<circle cx="143.6" cy="485.8" r="3.4"/>
<circle cx="145.1" cy="483.9" r="3.4"/>
<circle cx="150.6" cy="485.7" r="3.4"/>
<circle cx="152.4" cy="483.9" r="3.4"/>
<circle cx="154.2" cy="484.5" r="3.4"/>
<circle cx="157.6" cy="484.9" r="3.4"/>
<circle cx="161.3" cy="484.1" r="3.4"/>
<circle cx="164.2" cy="480.6" r="3.4"/>
<circle cx="167" cy="481" r="3.4"/>
<circle cx="163.4" cy="479.4" r="3.4"/>
<circle cx="166.3" cy="483.4" r="3.4"/>
<circle cx="169.9" cy="489" r="3.4"/>
<circle cx="171.8" cy="489.2" r="3.4"/>
<circle cx="175.3" cy="488.2" r="3.4"/>
<circle cx="178" cy="488.9" r="3.4"/>
<circle cx="179.5" cy="492.5" r="3.4"/>
<circle cx="182.4" cy="492.8" r="3.4"/>
<circle cx="182.9" cy="494.3" r="3.4"/>
<circle cx="187.8" cy="492.9" r="3.4"/>
<circle cx="190.2" cy="496.1" r="3.4"/>
<circle cx="191.4" cy="496.3" r="3.4"/>
<circle cx="191.8" cy="493.5" r="3.4"/>
<circle cx="189.2" cy="497.9" r="3.4"/>
<circle cx="190.8" cy="503.1" r="3.4"/>
<circle cx="189.2" cy="504.9" r="3.4"/>
<circle cx="188.1" cy="507.2" r="3.4"/>
<circle cx="188" cy="512" r="3.4"/>
<circle cx="188.5" cy="515.1" r="3.4"/>
<circle cx="187.4" cy="518.7" r="3.4"/>
<circle cx="185.8" cy="518.4" r="3.4"/>
<circle cx="182.7" cy="522" r="3.4"/>
<circle cx="182.1" cy="523.1" r="3.4"/>
<circle cx="179.9" cy="527.8" r="3.4"/>
<circle cx="178.3" cy="531.5" r="3.4"/>
<circle cx="176.9" cy="535.6" r="3.4"/>
<circle cx="176.3" cy="536" r="3.4"/>
<circle cx="176.8" cy="540.7" r="3.4"/>
<circle cx="174.1" cy="540.8" r="3.4"/>
<circle cx="173.2" cy="545.3" r="3.4"/>
<circle cx="170.3" cy="547.1" r="3.4"/>
<circle cx="172.5" cy="547.1" r="3.4"/>
<circle cx="168.6" cy="545.7" r="3.4"/>
<circle cx="164.9" cy="549" r="3.4"/>
<circle cx="164.4" cy="550" r="3.4"/>
<circle cx="164.1" cy="546.6" r="3.4"/>
<circle cx="161.5" cy="546.4" r="3.4"/>
<circle cx="158.9" cy="545.5" r="3.4"/>
<circle cx="152.8" cy="543" r="3.4"/>
<circle cx="151" cy="541.6" r="3.4"/>
<circle cx="149.6" cy="543.1" r="3.4"/>
<circle cx="146.7" cy="542.1" r="3.4"/>
<circle cx="144.5" cy="540.6" r="3.4"/>
<circle cx="139.8" cy="540.8" r="3.4"/>
<circle cx="135.3" cy="540.9" r="3.4"/>
<circle cx="132.3" cy="540.5" r="3.4"/>
<circle cx="129.2" cy="539.4" r="3.4"/>
<circle cx="126.8" cy="538.8" r="3.4"/>
<circle cx="126.7" cy="540.5" r="3.4"/>
<circle cx="124.9" cy="537.5" r="3.4"/>
<circle cx="120.4" cy="535.8" r="3.4"/>
<circle cx="118.1" cy="531.5" r="3.4"/>
<circle cx="114.4" cy="533.1" r="3.4"/>
<circle cx="112.2" cy="532.7" r="3.4"/>
<circle cx="109.2" cy="531.7" r="3.4"/>
<circle cx="108.1" cy="530.1" r="3.4"/>
<circle cx="104.8" cy="527.1" r="3.4"/>
<circle cx="102.2" cy="525.8" r="3.4"/>
<circle cx="103.3" cy="525.5" r="3.4"/>
<circle cx="101.8" cy="521.7" r="3.4"/>
<circle cx="98.1" cy="517.9" r="3.4"/>
<circle cx="96" cy="515.2" r="3.4"/>
<circle cx="94.4" cy="515.7" r="3.4"/>
<circle cx="89.5" cy="513.9" r="3.4"/>
<circle cx="88.9" cy="512" r="3.4"/>
<circle cx="85.4" cy="509.9" r="3.4"/>
<circle cx="80.7" cy="509.7" r="3.4"/>
<circle cx="81.7" cy="509" r="3.4"/>
<circle cx="81.7" cy="504.2" r="3.4"/>
<circle cx="79.9" cy="501.1" r="3.4"/>
<circle cx="79" cy="500.9" r="3.4"/>
<circle cx="78.2" cy="496.7" r="3.4"/>
<circle cx="78" cy="493.8" r="3.4"/>
<circle cx="78.7" cy="491.4" r="3.4"/>
<circle cx="78.3" cy="493.6" r="3.4"/>
<circle cx="173.3" cy="549.2" r="3.4"/>
<circle cx="165.6" cy="552" r="3.4"/>
<circle cx="165.4" cy="553.2" r="3.4"/>
<circle cx="161.7" cy="555.4" r="3.4"/>
<circle cx="162.3" cy="551.8" r="3.4"/>
<circle cx="153.5" cy="546.7" r="3.4"/>
<circle cx="143.9" cy="545.4" r="3.4"/>
<circle cx="149.2" cy="549.7" r="3.4"/>
<circle cx="137.9" cy="544.4" r="3.4"/>
<circle cx="134.8" cy="544.6" r="3.4"/>
<circle cx="130.6" cy="544.7" r="3.4"/>
<circle cx="127.2" cy="542.4" r="3.4"/>
<circle cx="120.1" cy="537" r="3.4"/>
<circle cx="124.2" cy="543.3" r="3.4"/>
<circle cx="114.3" cy="538.8" r="3.4"/>
<circle cx="118" cy="535.4" r="3.4"/>
<circle cx="107.3" cy="534.6" r="3.4"/>
<circle cx="105.1" cy="532.4" r="3.4"/>
<circle cx="98" cy="526.7" r="3.4"/>
<circle cx="96.3" cy="522.7" r="3.4"/>
<circle cx="94.1" cy="523.3" r="3.4"/>
<circle cx="90.5" cy="523.2" r="3.4"/>
<circle cx="80.9" cy="510.8" r="3.4"/>
<circle cx="79" cy="512" r="3.4"/>
<circle cx="73.5" cy="510.3" r="3.4"/>
<circle cx="78.8" cy="507.9" r="3.4"/>
<circle cx="71.4" cy="509.9" r="3.4"/>
<circle cx="75" cy="493.1" r="3.4"/>
<circle cx="74.4" cy="495.6" r="3.4"/>
<circle cx="67" cy="499.3" r="3.4"/>
<circle cx="69.5" cy="499" r="3.4"/>
<circle cx="64.9" cy="510.5" r="3.4"/>
<circle cx="89.4" cy="522.4" r="3.4"/>
<circle cx="86" cy="533" r="3.4"/>
<circle cx="94" cy="547.3" r="3.4"/>
<circle cx="104.7" cy="547.3" r="3.4"/>
<circle cx="133.4" cy="551.2" r="3.4"/>
<circle cx="152.6" cy="556" r="3.4"/>
</g>
<g fill="#ff7f0e">
<polygon points="244.5,456.6 237.4,457.5 229.7,461.3 222.3,466 220.6,471.9 224.3,479.3 224.4,479.5 224.4,479.6 224.5,479.8 225.4,485.2 229.5,488.5 236.9,488.5 248.9,487.5 249,487.5 249.2,487.5 249.3,487.5 249.4,487.6 259.4,490.6 266.2,492.3 267.7,489.3 267.7,489.2 267.8,489.1 267.9,488.9 273.4,483.5 272.5,478.2 272.5,478.1 272.5,478 272.5,477.8 272.5,477.7 272.6,477.5 272.6,477.4 272.7,477.3 272.8,477.2 272.8,477 277.2,471.8 276.2,469.7 271.2,470.5 271.1,470.5 271,470.5 270.8,470.5 270.7,470.5 270.6,470.4 270.4,470.4 260.4,466.4 260.3,466.3 250.3,461.3 250.2,461.3 250,461.2"/>
<circle cx="243.1" cy="458.1" r="3.4"/>
<circle cx="245.9" cy="460.9" r="3.4"/>
<circle cx="249.3" cy="460.5" r="3.4"/>
<circle cx="251.8" cy="462.8" r="3.4"/>
<circle cx="253.9" cy="464.7" r="3.4"/>
<circle cx="257.2" cy="465.2" r="3.4"/>
<circle cx="258.5" cy="467.8" r="3.4"/>
<circle cx="261.4" cy="468.4" r="3.4"/>
<circle cx="264" cy="470.9" r="3.4"/>
<circle cx="265.2" cy="471.3" r="3.4"/>
<circle cx="268.1" cy="472" r="3.4"/>
<circle cx="272.1" cy="471.4" r="3.4"/>
<circle cx="276.8" cy="472.6" r="3.4"/>
<circle cx="277.6" cy="471.9" r="3.4"/>
<circle cx="276.4" cy="470.7" r="3.4"/>
<circle cx="273.4" cy="472.1" r="3.4"/>
<circle cx="272.2" cy="475" r="3.4"/>
<circle cx="271.8" cy="478.8" r="3.4"/>
<circle cx="271.4" cy="483.3" r="3.4"/>
<circle cx="270.8" cy="482" r="3.4"/>
<circle cx="267.7" cy="484.7" r="3.4"/>
<circle cx="268.1" cy="485.7" r="3.4"/>
<circle cx="263.4" cy="491.2" r="3.4"/>
<circle cx="265.5" cy="490.3" r="3.4"/>
<circle cx="265.1" cy="489.3" r="3.4"/>
<circle cx="260.4" cy="487.4" r="3.4"/>
<circle cx="256.8" cy="488.8" r="3.4"/>
<circle cx="254" cy="486.8" r="3.4"/>
<circle cx="251.6" cy="487.2" r="3.4"/>
<circle cx="246.1" cy="486.4" r="3.4"/>
<circle cx="244" cy="486.5" r="3.4"/>
<circle cx="241" cy="488.3" r="3.4"/>
<circle cx="237.8" cy="488" r="3.4"/>
<circle cx="236.4" cy="488.6" r="3.4"/>
<circle cx="233.1" cy="486.5" r="3.4"/>
<circle cx="230.4" cy="488.7" r="3.4"/>
<circle cx="230.3" cy="487.9" r="3.4"/>
<circle cx="226.1" cy="483.5" r="3.4"/>
<circle cx="227.7" cy="484.2" r="3.4"/>
<circle cx="226.2" cy="480.6" r="3.4"/>
<circle cx="223.7" cy="476.7" r="3.4"/>
<circle cx="223" cy="474.7" r="3.4"/>
<circle cx="222.6" cy="472.4" r="3.4"/>
<circle cx="221.4" cy="470.1" r="3.4"/>
<circle cx="223.1" cy="468" r="3.4"/>
<circle cx="224.5" cy="466.9" r="3.4"/>
<circle cx="226.3" cy="465.4" r="3.4"/>
<circle cx="230.5" cy="463.4" r="3.4"/>
<circle cx="230.6" cy="461.9" r="3.4"/>
<circle cx="233.2" cy="461.5" r="3.4"/>
<circle cx="237.7" cy="459.3" r="3.4"/>
<circle cx="239.8" cy="458.9" r="3.4"/>
<circle cx="240.3" cy="458.5" r="3.4"/>
<circle cx="244" cy="458.1" r="3.4"/>
</g>
<g fill="#2ca02c">
<polygon points="175.7,386.9 184.2,399.1 184.3,399.3 184.4,399.4 184.4,399.5 188.4,411.4 195.3,423.2 201.2,433.1 205.7,437.6 215.1,438.5 215.3,438.5 215.4,438.6 215.6,438.6 225.5,442.6 233,445.4 237.3,443.7 242.2,440.7 242.3,440.7 254.2,434.7 264.1,427.8 264.2,427.7 272.2,422.7 284.1,414.8 304.1,398.8 304.2,398.8 311.3,394 304.6,391.5 292.8,389.5 292.6,389.4 292.4,389.4 282.5,385.4 262.1,378.6 255.6,381.4 255.4,381.4 255.3,381.5 255.2,381.5 255,381.5 247,381.5 246.9,381.5 246.8,381.5 234.8,379.5 234.6,379.5 234.5,379.4 228.5,377.4 228.4,377.4 228.3,377.3 228.2,377.2 228,377.2 227.9,377.1 222.6,371.8 213.8,375.3 206.1,383.1 206,383.2 205.8,383.2 205.7,383.3 205.6,383.4 205.4,383.4 205.3,383.5 205.2,383.5 205,383.5 204.9,383.5 204.7,383.5 204.6,383.4 204.4,383.4 194.9,379.6 185.5,382.4 176.1,386.2"/>
<circle cx="177.9" cy="387.9" r="3.4"/>
<circle cx="179" cy="388.2" r="3.4"/>
<circle cx="180.2" cy="386.3" r="3.4"/>
<circle cx="182.3" cy="386.3" r="3.4"/>
<circle cx="185.4" cy="383.8" r="3.4"/>
<circle cx="187.9" cy="382" r="3.4"/>
<circle cx="189.6" cy="383.1" r="3.4"/>
<circle cx="195.3" cy="381.3" r="3.4"/>
<circle cx="195.6" cy="382.5" r="3.4"/>
<circle cx="196.6" cy="382.5" r="3.4"/>
<circle cx="199.6" cy="382.8" r="3.4"/>
<circle cx="202.5" cy="386.3" r="3.4"/>
<circle cx="207.4" cy="382.4" r="3.4"/>
<circle cx="210.6" cy="381.1" r="3.4"/>
<circle cx="213.1" cy="378.1" r="3.4"/>
<circle cx="212.6" cy="376.7" r="3.4"/>
<circle cx="215.1" cy="376.5" r="3.4"/>
<circle cx="217.5" cy="377.5" r="3.4"/>
<circle cx="219.8" cy="375.2" r="3.4"/>
<circle cx="221.9" cy="373.2" r="3.4"/>
<circle cx="221.6" cy="374.2" r="3.4"/>
<circle cx="223.2" cy="374.2" r="3.4"/>
<circle cx="225.4" cy="375.9" r="3.4"/>
<circle cx="229.3" cy="378.2" r="3.4"/>
<circle cx="233" cy="379.4" r="3.4"/>
<circle cx="236.4" cy="380.9" r="3.4"/>
<circle cx="237.9" cy="381.6" r="3.4"/>
<circle cx="240.6" cy="382.5" r="3.4"/>
<circle cx="246" cy="383.4" r="3.4"/>
<circle cx="247.4" cy="383.5" r="3.4"/>
<circle cx="249.8" cy="383" r="3.4"/>
<circle cx="254.2" cy="381.7" r="3.4"/>
<circle cx="256.1" cy="381.5" r="3.4"/>
<circle cx="259.6" cy="379.7" r="3.4"/>
<circle cx="263.2" cy="380" r="3.4"/>
<circle cx="262.7" cy="379.6" r="3.4"/>
<circle cx="266" cy="382.7" r="3.4"/>
<circle cx="269.4" cy="382.2" r="3.4"/>
<circle cx="271.8" cy="385.5" r="3.4"/>
<circle cx="276" cy="384.9" r="3.4"/>
<circle cx="277.9" cy="386" r="3.4"/>
<circle cx="281.4" cy="387.5" r="3.4"/>
<circle cx="284" cy="385.8" r="3.4"/>
<circle cx="285.5" cy="386.6" r="3.4"/>
<circle cx="287.7" cy="388.9" r="3.4"/>
<circle cx="290.2" cy="388.5" r="3.4"/>
<circle cx="294.7" cy="391.6" r="3.4"/>
<circle cx="297.9" cy="392.4" r="3.4"/>
<circle cx="300.7" cy="392.5" r="3.4"/>
<circle cx="302.6" cy="393.2" r="3.4"/>
<circle cx="305.1" cy="395.2" r="3.4"/>
<circle cx="308.9" cy="394.7" r="3.4"/>
<circle cx="312" cy="394" r="3.4"/>
<circle cx="310.7" cy="396.3" r="3.4"/>
<circle cx="310" cy="391.6" r="3.4"/>
<circle cx="308.3" cy="391.9" r="3.4"/>
<circle cx="306.6" cy="394.5" r="3.4"/>
<circle cx="305.2" cy="396.5" r="3.4"/>
<circle cx="301.2" cy="400.2" r="3.4"/>
<circle cx="300.7" cy="401.4" r="3.4"/>
<circle cx="295.6" cy="401.4" r="3.4"/>
<circle cx="293.7" cy="403.8" r="3.4"/>
<circle cx="291.9" cy="405.1" r="3.4"/>
<circle cx="289.2" cy="409.2" r="3.4"/>
<circle cx="287" cy="408.4" r="3.4"/>
<circle cx="285.1" cy="413.7" r="3.4"/>
<circle cx="283" cy="413.5" r="3.4"/>
<circle cx="281.4" cy="416.9" r="3.4"/>
<circle cx="277.8" cy="416.4" r="3.4"/>
<circle cx="274.9" cy="417.5" r="3.4"/>
<circle cx="272.4" cy="420.4" r="3.4"/>
<circle cx="269.2" cy="421.5" r="3.4"/>
<circle cx="268.3" cy="423.4" r="3.4"/>
<circle cx="263.1" cy="425.2" r="3.4"/>
<circle cx="262" cy="427.4" r="3.4"/>
<circle cx="259.5" cy="429.2" r="3.4"/>
<circle cx="257.3" cy="429.5" r="3.4"/>
<circle cx="254.2" cy="432.7" r="3.4"/>
<circle cx="252.7" cy="433.1" r="3.4"/>
<circle cx="248.2" cy="436" r="3.4"/>
<circle cx="245.4" cy="435.8" r="3.4"/>
<circle cx="242.8" cy="438.7" r="3.4"/>
<circle cx="240.1" cy="441.4" r="3.4"/>
<circle cx="237.1" cy="442.6" r="3.4"/>
<circle cx="234.1" cy="442.2" r="3.4"/>
<circle cx="232.2" cy="444.3" r="3.4"/>
<circle cx="232.2" cy="445.4" r="3.4"/>
<circle cx="230.4" cy="442.4" r="3.4"/>
<circle cx="228" cy="442.7" r="3.4"/>
<circle cx="225.6" cy="440.3" r="3.4"/>
<circle cx="223.6" cy="438.8" r="3.4"/>
<circle cx="219.6" cy="439.9" r="3.4"/>
<circle cx="217.2" cy="438.2" r="3.4"/>
<circle cx="213.5" cy="435.1" r="3.4"/>
<circle cx="210.9" cy="435.4" r="3.4"/>
<circle cx="207.4" cy="436.3" r="3.4"/>
<circle cx="206.2" cy="434.6" r="3.4"/>
<circle cx="204.2" cy="434.5" r="3.4"/>
<circle cx="201.7" cy="429.7" r="3.4"/>
<circle cx="199.6" cy="427.6" r="3.4"/>
<circle cx="197.6" cy="426" r="3.4"/>
<circle cx="198.3" cy="422.1" r="3.4"/>
<circle cx="197.7" cy="420.9" r="3.4"/>
<circle cx="194.1" cy="418.8" r="3.4"/>
<circle cx="193.2" cy="416.8" r="3.4"/>
<circle cx="191.5" cy="413.8" r="3.4"/>
<circle cx="190.8" cy="411" r="3.4"/>
<circle cx="190.6" cy="409.6" r="3.4"/>
<circle cx="189.8" cy="406.8" r="3.4"/>
<circle cx="188" cy="401.9" r="3.4"/>
<circle cx="187" cy="401.8" r="3.4"/>
<circle cx="185.9" cy="397.1" r="3.4"/>
<circle cx="182.6" cy="392.8" r="3.4"/>
<circle cx="181.9" cy="390.1" r="3.4"/>
<circle cx="178.8" cy="388.5" r="3.4"/>
<circle cx="177.5" cy="386" r="3.4"/>
<circle cx="175.7" cy="385.6" r="3.4"/>
<circle cx="176.6" cy="385.4" r="3.4"/>
<circle cx="191.5" cy="379.7" r="3.4"/>
<circle cx="186.7" cy="380.8" r="3.4"/>
<circle cx="205.1" cy="372.3" r="3.4"/>
<circle cx="201.9" cy="371.1" r="3.4"/>
<circle cx="208.2" cy="378.9" r="3.4"/>
<circle cx="200.5" cy="373.8" r="3.4"/>
<circle cx="220.2" cy="371.5" r="3.4"/>
<circle cx="215" cy="373.7" r="3.4"/>
<circle cx="226.9" cy="375" r="3.4"/>
<circle cx="228.1" cy="371.2" r="3.4"/>
<circle cx="233" cy="372.9" r="3.4"/>
<circle cx="232.8" cy="376.2" r="3.4"/>
<circle cx="242.3" cy="378.9" r="3.4"/>
<circle cx="241.1" cy="370.4" r="3.4"/>
<circle cx="254.3" cy="378.3" r="3.4"/>
<circle cx="256" cy="378.9" r="3.4"/>
<circle cx="260.2" cy="378.8" r="3.4"/>
<circle cx="269.5" cy="378" r="3.4"/>
<circle cx="263.4" cy="373" r="3.4"/>
<circle cx="279.6" cy="381" r="3.4"/>
<circle cx="280" cy="382.2" r="3.4"/>
<circle cx="285.4" cy="375.3" r="3.4"/>
<circle cx="289.2" cy="386.2" r="3.4"/>
<circle cx="286.8" cy="385.5" r="3.4"/>
<circle cx="303.2" cy="385.5" r="3.4"/>
<circle cx="304.3" cy="380.8" r="3.4"/>
<circle cx="308.8" cy="387.5" r="3.4"/>
<circle cx="307.8" cy="388.8" r="3.4"/>
<circle cx="314.7" cy="393" r="3.4"/>
<circle cx="167.6" cy="362" r="3.4"/>
<circle cx="199.6" cy="363" r="3.4"/>
<circle cx="187" cy="367" r="3.4"/>
<circle cx="183" cy="371" r="3.4"/>
<circle cx="198.6" cy="371.6" r="3.4"/>
<circle cx="228.5" cy="358" r="3.4"/>
<circle cx="231" cy="365" r="3.4"/>
<circle cx="189" cy="378" r="3.4"/>
<circle cx="271" cy="361" r="3.4"/>
<circle cx="295" cy="360.6" r="3.4"/>
<circle cx="293" cy="367.6" r="3.4"/>
<circle cx="287" cy="369" r="3.4"/>
<circle cx="303.4" cy="374.4" r="3.4"/>
<circle cx="319.6" cy="372.4" r="3.4"/>
<circle cx="279" cy="375" r="3.4"/>
<circle cx="285" cy="379" r="3.4"/>
<circle cx="306" cy="384" r="3.4"/>
<circle cx="314" cy="383" r="3.4"/>
<circle cx="318" cy="389.4" r="3.4"/>
<circle cx="311" cy="394" r="3.4"/>
<circle cx="337" cy="371.3" r="3.4"/>
<circle cx="331.8" cy="383" r="3.4"/>
<circle cx="329.5" cy="385.5" r="3.4"/>
<circle cx="320" cy="388" r="3.4"/>
</g>
<g fill="#d62728">
<polygon points="168.5,477.8 170.2,482.9 189.5,490.6 195.4,492.6 202.7,494.4 210.2,489.7 210.3,489.7 210.5,489.6 210.6,489.6 210.7,489.5 210.9,489.5 211,489.5 218.4,489.5 222.4,485.5 221.6,480.5 217.8,472.9 214.4,469.5 205,469.5 204.9,469.5 194.9,468.5 194.7,468.5 194.6,468.4 194.5,468.4 194.3,468.3 186.4,464.4 178.4,461.7 169.4,470.7"/>
<circle cx="170" cy="477.6" r="3.4"/>
<circle cx="169.7" cy="475.2" r="3.4"/>
<circle cx="171.9" cy="471.6" r="3.4"/>
<circle cx="172.5" cy="472.1" r="3.4"/>
<circle cx="172.3" cy="467.9" r="3.4"/>
<circle cx="175" cy="468.7" r="3.4"/>
<circle cx="177.3" cy="465.4" r="3.4"/>
<circle cx="177.6" cy="462.4" r="3.4"/>
<circle cx="179.6" cy="462.8" r="3.4"/>
<circle cx="181.5" cy="464.1" r="3.4"/>
<circle cx="186.4" cy="464.5" r="3.4"/>
<circle cx="185.9" cy="465.6" r="3.4"/>
<circle cx="189.9" cy="466.2" r="3.4"/>
<circle cx="192.3" cy="471.2" r="3.4"/>
<circle cx="194.9" cy="470.3" r="3.4"/>
<circle cx="199.7" cy="469.4" r="3.4"/>
<circle cx="202.5" cy="470.7" r="3.4"/>
<circle cx="207.2" cy="470.2" r="3.4"/>
<circle cx="209.5" cy="469.4" r="3.4"/>
<circle cx="214.5" cy="472.5" r="3.4"/>
<circle cx="213.3" cy="470.6" r="3.4"/>
<circle cx="217.1" cy="472.4" r="3.4"/>
<circle cx="216.9" cy="473.7" r="3.4"/>
<circle cx="218.3" cy="477.9" r="3.4"/>
<circle cx="219.3" cy="480.1" r="3.4"/>
<circle cx="220.7" cy="480.9" r="3.4"/>
<circle cx="222.5" cy="485.9" r="3.4"/>
<circle cx="220.7" cy="485.2" r="3.4"/>
<circle cx="217" cy="487.8" r="3.4"/>
<circle cx="218" cy="488.1" r="3.4"/>
<circle cx="215" cy="486.6" r="3.4"/>
<circle cx="212.8" cy="486.1" r="3.4"/>
<circle cx="206.9" cy="490.1" r="3.4"/>
<circle cx="205.5" cy="491" r="3.4"/>
<circle cx="202.8" cy="491.8" r="3.4"/>
<circle cx="202" cy="491.9" r="3.4"/>
<circle cx="200" cy="490.6" r="3.4"/>
<circle cx="196.5" cy="490.7" r="3.4"/>
<circle cx="193.1" cy="490.4" r="3.4"/>
<circle cx="192.4" cy="489.3" r="3.4"/>
<circle cx="189.7" cy="488.1" r="3.4"/>
<circle cx="186.9" cy="487.5" r="3.4"/>
<circle cx="185.7" cy="485.8" r="3.4"/>
<circle cx="182.4" cy="485.9" r="3.4"/>
<circle cx="178.9" cy="483.5" r="3.4"/>
<circle cx="177.5" cy="484" r="3.4"/>
<circle cx="172.9" cy="482.8" r="3.4"/>
<circle cx="171.9" cy="481.3" r="3.4"/>
<circle cx="171.4" cy="479.9" r="3.4"/>
<circle cx="171" cy="478.8" r="3.4"/>
</g>
<g fill="#9467bd">
<polygon points="280,473.1 275.6,478.4 276.5,483.8 276.5,483.9 276.5,484 276.5,484.2 276.5,484.3 276.4,484.5 276.4,484.6 276.3,484.7 276.2,484.8 276.2,485 276.1,485.1 270.2,490.9 268.6,494.1 271.3,501.3 280.2,513.1 296.1,533 304,539.9 304.1,539.9 305.9,541.8 309.5,544 313.7,537.2 313.8,537.1 313.9,537 314,536.9 314.1,536.8 314.3,536.7 314.4,536.6 314.5,536.6 314.7,536.5 314.8,536.5 315,536.5 315.1,536.5 315.3,536.5 315.4,536.6 315.6,536.6 315.7,536.7 315.8,536.7 315.9,536.8 316.1,536.9 319.2,540.1 324.2,536.8 324.3,536.7 324.4,536.6 324.6,536.6 324.7,536.5 324.8,536.5 325,536.5 325.1,536.5 325.3,536.5 325.4,536.6 325.5,536.6 325.7,536.7 325.8,536.7 325.9,536.8 332.2,541.7 342.9,537.4 354.7,530.3 354.9,530.2 355,530.2 355.1,530.1 355.3,530.1 355.4,530.1 355.5,530.1 355.7,530.1 366.8,531.5 376.8,528.2 387.9,518.9 396.8,507.6 404.2,496.2 404.3,496 404.5,495.9 404.6,495.8 414.4,488.3 413,477.2 413,477 413,476.9 413,476.7 413.1,476.5 417.5,462.9 415.7,452.2 397.7,448 397.5,447.9 397.4,447.9 390.6,444.9 387.4,444.5 379.8,449.3 379.7,449.3 379.6,449.4 379.4,449.4 367.7,453 367.6,453.1 351,456.5 334.3,460.2 334.2,460.2 334,460.2 321.5,460.5 315.8,464.2 315.7,464.3 315.6,464.4 315.4,464.4 315.3,464.5 315.1,464.5 315,464.5 305.3,464.5 297.5,467.4 297.4,467.4 297.3,467.5 297.1,467.5 287.5,468.5"/>
<circle cx="282.2" cy="475.6" r="3.4"/>
<circle cx="283.8" cy="473.2" r="3.4"/>
<circle cx="286.9" cy="469.9" r="3.4"/>
<circle cx="288.9" cy="470.2" r="3.4"/>
<circle cx="292.2" cy="471" r="3.4"/>
<circle cx="296.8" cy="467.8" r="3.4"/>
<circle cx="300" cy="469.2" r="3.4"/>
<circle cx="300.8" cy="466.3" r="3.4"/>
<circle cx="306.5" cy="467.2" r="3.4"/>
<circle cx="305.7" cy="467.4" r="3.4"/>
<circle cx="309.5" cy="467.8" r="3.4"/>
<circle cx="313.4" cy="465.9" r="3.4"/>
<circle cx="317.8" cy="466" r="3.4"/>
<circle cx="322.4" cy="463" r="3.4"/>
<circle cx="322.7" cy="461.8" r="3.4"/>
<circle cx="327" cy="462.1" r="3.4"/>
<circle cx="328.7" cy="463.6" r="3.4"/>
<circle cx="332.5" cy="460.8" r="3.4"/>
<circle cx="335.4" cy="461.7" r="3.4"/>
<circle cx="337.8" cy="462.5" r="3.4"/>
<circle cx="341.4" cy="460.3" r="3.4"/>
<circle cx="344.2" cy="461" r="3.4"/>
<circle cx="346.1" cy="460.2" r="3.4"/>
<circle cx="348.9" cy="457.9" r="3.4"/>
<circle cx="353.8" cy="457" r="3.4"/>
<circle cx="354.4" cy="455.7" r="3.4"/>
<circle cx="357.4" cy="455.4" r="3.4"/>
<circle cx="360.3" cy="458" r="3.4"/>
<circle cx="364.4" cy="456" r="3.4"/>
<circle cx="367.5" cy="455.3" r="3.4"/>
<circle cx="368.4" cy="452.7" r="3.4"/>
<circle cx="372.1" cy="453.2" r="3.4"/>
<circle cx="374.8" cy="453.5" r="3.4"/>
<circle cx="377.3" cy="452.1" r="3.4"/>
<circle cx="382.7" cy="449.9" r="3.4"/>
<circle cx="383.8" cy="449.1" r="3.4"/>
<circle cx="385.8" cy="446.5" r="3.4"/>
<circle cx="390.5" cy="447" r="3.4"/>
<circle cx="389.9" cy="447.9" r="3.4"/>
<circle cx="392.6" cy="448.4" r="3.4"/>
<circle cx="395.7" cy="449.4" r="3.4"/>
<circle cx="398.4" cy="450.1" r="3.4"/>
<circle cx="401" cy="449.3" r="3.4"/>
<circle cx="404.5" cy="449.5" r="3.4"/>
<circle cx="406.6" cy="453" r="3.4"/>
<circle cx="410.2" cy="453.4" r="3.4"/>
<circle cx="413.1" cy="452.1" r="3.4"/>
<circle cx="414.5" cy="453.8" r="3.4"/>
<circle cx="414.7" cy="453.9" r="3.4"/>
<circle cx="414.4" cy="456.5" r="3.4"/>
<circle cx="415.5" cy="458.5" r="3.4"/>
<circle cx="414.5" cy="463.2" r="3.4"/>
<circle cx="415.1" cy="464" r="3.4"/>
<circle cx="413.6" cy="465.5" r="3.4"/>
<circle cx="414.9" cy="470.6" r="3.4"/>
<circle cx="411.6" cy="470.8" r="3.4"/>
<circle cx="410.7" cy="474.9" r="3.4"/>
<circle cx="413.1" cy="478.2" r="3.4"/>
<circle cx="410.4" cy="481.9" r="3.4"/>
<circle cx="412.8" cy="483.6" r="3.4"/>
<circle cx="411.9" cy="489.5" r="3.4"/>
<circle cx="411.2" cy="486.7" r="3.4"/>
<circle cx="409.4" cy="489.5" r="3.4"/>
<circle cx="407" cy="491.2" r="3.4"/>
<circle cx="405.7" cy="492.9" r="3.4"/>
<circle cx="402" cy="496.3" r="3.4"/>
<circle cx="400.4" cy="497" r="3.4"/>
<circle cx="398.9" cy="501" r="3.4"/>
<circle cx="397" cy="504.6" r="3.4"/>
<circle cx="396.6" cy="504.7" r="3.4"/>
<circle cx="394.6" cy="506.8" r="3.4"/>
<circle cx="392.8" cy="510.1" r="3.4"/>
<circle cx="389.9" cy="512.5" r="3.4"/>
<circle cx="388.3" cy="514.5" r="3.4"/>
<circle cx="387.5" cy="518" r="3.4"/>
<circle cx="387.8" cy="519.3" r="3.4"/>
<circle cx="382.6" cy="521.3" r="3.4"/>
<circle cx="379.7" cy="521.4" r="3.4"/>
<circle cx="379.6" cy="524.5" r="3.4"/>
<circle cx="375" cy="526.1" r="3.4"/>
<circle cx="376.1" cy="526.2" r="3.4"/>
<circle cx="372.1" cy="529.7" r="3.4"/>
<circle cx="369.3" cy="529.7" r="3.4"/>
<circle cx="368.5" cy="531.1" r="3.4"/>
<circle cx="364.7" cy="531.5" r="3.4"/>
<circle cx="364.2" cy="529.1" r="3.4"/>
<circle cx="360.4" cy="529.2" r="3.4"/>
<circle cx="358.8" cy="528.6" r="3.4"/>
<circle cx="352.9" cy="529.2" r="3.4"/>
<circle cx="351.2" cy="530.7" r="3.4"/>
<circle cx="350" cy="533.4" r="3.4"/>
<circle cx="344.8" cy="533.5" r="3.4"/>
<circle cx="342.2" cy="533.9" r="3.4"/>
<circle cx="341.5" cy="535.7" r="3.4"/>
<circle cx="337.6" cy="537.8" r="3.4"/>
<circle cx="334.4" cy="538.6" r="3.4"/>
<circle cx="332.7" cy="539.3" r="3.4"/>
<circle cx="332.5" cy="539.5" r="3.4"/>
<circle cx="330.5" cy="536.9" r="3.4"/>
<circle cx="327.6" cy="535.5" r="3.4"/>
<circle cx="321.3" cy="536.3" r="3.4"/>
<circle cx="319.5" cy="537.9" r="3.4"/>
<circle cx="320.9" cy="540.1" r="3.4"/>
<circle cx="318.3" cy="536.6" r="3.4"/>
<circle cx="310" cy="537.1" r="3.4"/>
<circle cx="310.1" cy="538.7" r="3.4"/>
<circle cx="306.9" cy="542.8" r="3.4"/>
<circle cx="309.2" cy="542.4" r="3.4"/>
<circle cx="308" cy="540.5" r="3.4"/>
<circle cx="305.5" cy="541.6" r="3.4"/>
<circle cx="304.1" cy="537.3" r="3.4"/>
<circle cx="302.4" cy="536.2" r="3.4"/>
<circle cx="300.7" cy="534.5" r="3.4"/>
<circle cx="299.6" cy="532.3" r="3.4"/>
<circle cx="296.8" cy="531.6" r="3.4"/>
<circle cx="293.5" cy="529.1" r="3.4"/>
<circle cx="292.2" cy="526.4" r="3.4"/>
<circle cx="291.3" cy="524" r="3.4"/>
<circle cx="289.1" cy="520.4" r="3.4"/>
<circle cx="287.2" cy="517.1" r="3.4"/>
<circle cx="285.3" cy="516.1" r="3.4"/>
<circle cx="282.8" cy="513.5" r="3.4"/>
<circle cx="280" cy="510.2" r="3.4"/>
<circle cx="279.1" cy="508.1" r="3.4"/>
<circle cx="277.8" cy="504.7" r="3.4"/>
<circle cx="273.5" cy="503.9" r="3.4"/>
<circle cx="273" cy="500.3" r="3.4"/>
<circle cx="271.2" cy="501.1" r="3.4"/>
<circle cx="271.7" cy="497.7" r="3.4"/>
<circle cx="271.1" cy="495.2" r="3.4"/>
<circle cx="270.4" cy="493.3" r="3.4"/>
<circle cx="274.2" cy="491.8" r="3.4"/>
<circle cx="274" cy="489.3" r="3.4"/>
<circle cx="275.3" cy="486.2" r="3.4"/>
<circle cx="278.3" cy="481.5" r="3.4"/>
<circle cx="278.3" cy="478.4" r="3.4"/>
<circle cx="278" cy="478" r="3.4"/>
<circle cx="279.2" cy="477.1" r="3.4"/>
<circle cx="281.2" cy="476.5" r="3.4"/>
<circle cx="387.6" cy="444.1" r="3.4"/>
<circle cx="392.6" cy="444.1" r="3.4"/>
<circle cx="397.5" cy="445.3" r="3.4"/>
<circle cx="414.3" cy="450.9" r="3.4"/>
<circle cx="412.5" cy="448.8" r="3.4"/>
<circle cx="407.1" cy="449.6" r="3.4"/>
<circle cx="402.4" cy="447" r="3.4"/>
<circle cx="404.1" cy="447.2" r="3.4"/>
<circle cx="418" cy="457.4" r="3.4"/>
<circle cx="420.2" cy="455.6" r="3.4"/>
<circle cx="422.4" cy="460.1" r="3.4"/>
<circle cx="418" cy="471.7" r="3.4"/>
<circle cx="415.7" cy="473.6" r="3.4"/>
<circle cx="422.2" cy="476.8" r="3.4"/>
<circle cx="415.1" cy="474.4" r="3.4"/>
<circle cx="423.8" cy="478.5" r="3.4"/>
<circle cx="424.8" cy="486.7" r="3.4"/>
<circle cx="414.7" cy="483.2" r="3.4"/>
<circle cx="422.5" cy="484.3" r="3.4"/>
<circle cx="415.9" cy="489.1" r="3.4"/>
<circle cx="410.6" cy="492.6" r="3.4"/>
<circle cx="417" cy="494.5" r="3.4"/>
<circle cx="407.4" cy="496.8" r="3.4"/>
<circle cx="398.1" cy="507.5" r="3.4"/>
<circle cx="401.7" cy="501" r="3.4"/>
<circle cx="403.9" cy="500.8" r="3.4"/>
<circle cx="401.4" cy="506.1" r="3.4"/>
<circle cx="396.7" cy="508.8" r="3.4"/>
<circle cx="396.6" cy="508.9" r="3.4"/>
<circle cx="399" cy="514.7" r="3.4"/>
<circle cx="391.5" cy="516.2" r="3.4"/>
<circle cx="387.3" cy="533" r="3.4"/>
<circle cx="388.3" cy="526.2" r="3.4"/>
<circle cx="380.6" cy="531.2" r="3.4"/>
<circle cx="383.5" cy="527.8" r="3.4"/>
<circle cx="384.9" cy="532.4" r="3.4"/>
<circle cx="373.1" cy="532.4" r="3.4"/>
<circle cx="372.6" cy="530.5" r="3.4"/>
<circle cx="368" cy="533.4" r="3.4"/>
<circle cx="375.8" cy="531.4" r="3.4"/>
<circle cx="362.5" cy="534" r="3.4"/>
<circle cx="360" cy="537.5" r="3.4"/>
<circle cx="359.9" cy="534.9" r="3.4"/>
<circle cx="344.3" cy="537.8" r="3.4"/>
<circle cx="352" cy="536.4" r="3.4"/>
<circle cx="352.4" cy="536.1" r="3.4"/>
<circle cx="353.2" cy="532.4" r="3.4"/>
<circle cx="333.7" cy="542.1" r="3.4"/>
<circle cx="343.1" cy="538.1" r="3.4"/>
<circle cx="337.5" cy="544.2" r="3.4"/>
<circle cx="337.3" cy="549.4" r="3.4"/>
<circle cx="327" cy="538.8" r="3.4"/>
<circle cx="325.9" cy="539.7" r="3.4"/>
<circle cx="325.4" cy="544.6" r="3.4"/>
<circle cx="325.4" cy="543.3" r="3.4"/>
<circle cx="324" cy="537.6" r="3.4"/>
<circle cx="313" cy="542.9" r="3.4"/>
<circle cx="315.2" cy="541.4" r="3.4"/>
<circle cx="321.2" cy="545.1" r="3.4"/>
<circle cx="314.6" cy="542.6" r="3.4"/>
<circle cx="321.1" cy="545.3" r="3.4"/>
<circle cx="306.6" cy="544.3" r="3.4"/>
<circle cx="492.9" cy="490.7" r="3.4"/>
<circle cx="495.3" cy="499.2" r="3.4"/>
<circle cx="500.7" cy="505.3" r="3.4"/>
<circle cx="517" cy="504" r="3.4"/>
<circle cx="486.8" cy="510.2" r="3.4"/>
<circle cx="516" cy="531.4" r="3.4"/>
<circle cx="476.8" cy="548" r="3.4"/>
<circle cx="390" cy="531" r="3.4"/>
<circle cx="382.6" cy="540.6" r="3.4"/>
<circle cx="369.6" cy="544.6" r="3.4"/>
<circle cx="376.7" cy="545" r="3.4"/>
<circle cx="362.5" cy="553" r="3.4"/>
<circle cx="340" cy="556.5" r="3.4"/>
<circle cx="427.5" cy="548" r="3.4"/>
<circle cx="323.5" cy="540" r="3.4"/>
<circle cx="334" cy="541" r="3.4"/>
<circle cx="405" cy="515" r="3.4"/>
<circle cx="404" cy="520" r="3.4"/>
<circle cx="398" cy="524" r="3.4"/>
<circle cx="422.9" cy="439" r="3.4"/>
<circle cx="440.7" cy="445.9" r="3.4"/>
<circle cx="428" cy="448.2" r="3.4"/>
<circle cx="459.7" cy="449.5" r="3.4"/>
<circle cx="429.8" cy="454.2" r="3.4"/>
<circle cx="438.4" cy="456" r="3.4"/>
<circle cx="464.9" cy="464.6" r="3.4"/>
<circle cx="431.5" cy="467.2" r="3.4"/>
<circle cx="436.4" cy="467.7" r="3.4"/>
<circle cx="451.4" cy="471.5" r="3.4"/>
<circle cx="424.6" cy="470.7" r="3.4"/>
<circle cx="443.3" cy="478.8" r="3.4"/>
<circle cx="428.4" cy="481.9" r="3.4"/>
<circle cx="431.5" cy="485.4" r="3.4"/>
<circle cx="436.7" cy="486.2" r="3.4"/>
<circle cx="449.7" cy="486.2" r="3.4"/>
<circle cx="456.6" cy="485.7" r="3.4"/>
<circle cx="455.7" cy="489.7" r="3.4"/>
<circle cx="428.9" cy="488.8" r="3.4"/>
<circle cx="434.1" cy="490.6" r="3.4"/>
<circle cx="440.2" cy="492.3" r="3.4"/>
<circle cx="466.1" cy="491.4" r="3.4"/>
<circle cx="423.7" cy="494" r="3.4"/>
<circle cx="419.4" cy="497.5" r="3.4"/>
<circle cx="448.8" cy="495.7" r="3.4"/>
<circle cx="460.1" cy="498.3" r="3.4"/>
<circle cx="467" cy="496.6" r="3.4"/>
<circle cx="472.2" cy="499.2" r="3.4"/>
<circle cx="478.2" cy="499.2" r="3.4"/>
<circle cx="432.4" cy="498.3" r="3.4"/>
<circle cx="441.9" cy="500.9" r="3.4"/>
<circle cx="431.5" cy="502.7" r="3.4"/>
<circle cx="444.5" cy="504.4" r="3.4"/>
<circle cx="456.6" cy="505.3" r="3.4"/>
<circle cx="466.1" cy="503.5" r="3.4"/>
<circle cx="470.4" cy="506.1" r="3.4"/>
<circle cx="428.9" cy="506.1" r="3.4"/>
<circle cx="433.3" cy="507" r="3.4"/>
<circle cx="446.2" cy="509.6" r="3.4"/>
<circle cx="428.1" cy="510.5" r="3.4"/>
<circle cx="450.6" cy="512.2" r="3.4"/>
<circle cx="454.9" cy="514.8" r="3.4"/>
<circle cx="412.5" cy="504.4" r="3.4"/>
<circle cx="415.1" cy="507.9" r="3.4"/>
<circle cx="430.7" cy="513" r="3.4"/>
<circle cx="464.4" cy="517.4" r="3.4"/>
<circle cx="427.2" cy="519.1" r="3.4"/>
<circle cx="451.4" cy="521.7" r="3.4"/>
<circle cx="443.6" cy="522.6" r="3.4"/>
<circle cx="414.2" cy="518.2" r="3.4"/>
<circle cx="409.9" cy="520.8" r="3.4"/>
<circle cx="414.2" cy="524.3" r="3.4"/>
<circle cx="413.4" cy="528.6" r="3.4"/>
<circle cx="390.9" cy="530.3" r="3.4"/>
</g>
<g fill="#c49c94">
<polygon points="196.2,495.8 192.5,514.3 192.4,514.5 190.4,520.5 190.4,520.6 190.3,520.7 190.2,520.9 183.4,530.6 181.5,540.3 181.4,540.5 181.4,540.6 181.3,540.8 175.7,550.1 176.2,551 181.2,555.2 188.3,551.7 188.5,551.6 188.6,551.6 188.7,551.5 188.9,551.5 189,551.5 189.2,551.5 189.3,551.5 189.5,551.6 201.4,555.5 213.1,557.5 224.9,556.5 225,556.5 225.2,556.5 225.3,556.5 245,560.5 252.4,558.6 258.9,554.9 263.7,547.2 263.8,547.1 263.9,547 264,546.8 264.2,546.8 264.3,546.7 264.4,546.6 274.4,542.6 274.6,542.6 274.7,542.5 274.9,542.5 275.1,542.5 275.2,542.5 275.4,542.5 283.4,544.5 283.5,544.6 283.6,544.6 283.8,544.7 283.9,544.8 284,544.9 284.1,545 284.2,545.1 284.3,545.2 284.3,545.3 284.4,545.4 287.4,553 291.8,547.1 291.9,547 292,546.9 292.1,546.8 292.2,546.7 292.4,546.6 292.5,546.6 292.7,546.5 292.8,546.5 293,546.5 293.1,546.5 293.2,546.5 293.4,546.6 293.5,546.6 293.7,546.7 300.7,550.2 303.5,547.4 303.5,543.6 302,542.1 294,535.1 293.9,535 293.8,534.9 277.8,514.9 277.8,514.9 268.8,502.9 268.7,502.8 268.7,502.7 268.6,502.5 265.9,495.3 258.6,493.5 258.6,493.4 248.8,490.5 237.1,491.5 237,491.5 229,491.5 228.9,491.5 228.7,491.5 228.6,491.4 228.4,491.4 228.3,491.3 228.2,491.3 228.1,491.2 224.1,488 220.1,492.1 220,492.2 219.8,492.2 219.7,492.3 219.6,492.4 219.4,492.4 219.3,492.5 219.1,492.5 219,492.5 211.4,492.5 203.8,497.3 203.7,497.3 203.5,497.4 203.4,497.5 203.2,497.5 203.1,497.5 202.9,497.5 202.8,497.5 202.6,497.5"/>
<circle cx="194" cy="498.7" r="3.4"/>
<circle cx="198.5" cy="498.1" r="3.4"/>
<circle cx="200.2" cy="499.3" r="3.4"/>
<circle cx="206.9" cy="498.7" r="3.4"/>
<circle cx="207.5" cy="496.7" r="3.4"/>
<circle cx="210" cy="494.6" r="3.4"/>
<circle cx="212" cy="492.5" r="3.4"/>
<circle cx="215.3" cy="494.2" r="3.4"/>
<circle cx="218.8" cy="495.4" r="3.4"/>
<circle cx="222" cy="493.3" r="3.4"/>
<circle cx="224.1" cy="490.7" r="3.4"/>
<circle cx="223.9" cy="489.7" r="3.4"/>
<circle cx="225.3" cy="493.2" r="3.4"/>
<circle cx="229.5" cy="492.5" r="3.4"/>
<circle cx="231.8" cy="491.3" r="3.4"/>
<circle cx="236.2" cy="492.1" r="3.4"/>
<circle cx="238.5" cy="493.6" r="3.4"/>
<circle cx="241.4" cy="492.2" r="3.4"/>
<circle cx="246.3" cy="493.2" r="3.4"/>
<circle cx="248.5" cy="493.9" r="3.4"/>
<circle cx="250.9" cy="492.9" r="3.4"/>
<circle cx="252.7" cy="494.6" r="3.4"/>
<circle cx="257.5" cy="495.2" r="3.4"/>
<circle cx="260.4" cy="496.3" r="3.4"/>
<circle cx="262.5" cy="495.4" r="3.4"/>
<circle cx="265.9" cy="498.2" r="3.4"/>
<circle cx="264.8" cy="496" r="3.4"/>
<circle cx="264.7" cy="499.3" r="3.4"/>
<circle cx="266.4" cy="500.6" r="3.4"/>
<circle cx="266.2" cy="504.9" r="3.4"/>
<circle cx="271.2" cy="505.8" r="3.4"/>
<circle cx="270.7" cy="511.1" r="3.4"/>
<circle cx="275.3" cy="511.6" r="3.4"/>
<circle cx="275.4" cy="515" r="3.4"/>
<circle cx="276.9" cy="516.8" r="3.4"/>
<circle cx="280.9" cy="519.1" r="3.4"/>
<circle cx="280.1" cy="521.6" r="3.4"/>
<circle cx="284.6" cy="523.2" r="3.4"/>
<circle cx="286.9" cy="526.8" r="3.4"/>
<circle cx="286.8" cy="530.1" r="3.4"/>
<circle cx="288.8" cy="533.6" r="3.4"/>
<circle cx="289.9" cy="534.9" r="3.4"/>
<circle cx="295.1" cy="537.8" r="3.4"/>
<circle cx="295.2" cy="540.3" r="3.4"/>
<circle cx="297.4" cy="541.2" r="3.4"/>
<circle cx="299.9" cy="543.5" r="3.4"/>
<circle cx="302.4" cy="545" r="3.4"/>
<circle cx="301.4" cy="543.8" r="3.4"/>
<circle cx="302" cy="547.1" r="3.4"/>
<circle cx="301.6" cy="545.4" r="3.4"/>
<circle cx="300.2" cy="550.6" r="3.4"/>
<circle cx="299.9" cy="549.6" r="3.4"/>
<circle cx="298.1" cy="547.3" r="3.4"/>
<circle cx="295.7" cy="546.5" r="3.4"/>
<circle cx="291.1" cy="547" r="3.4"/>
<circle cx="286.9" cy="550.7" r="3.4"/>
<circle cx="286.1" cy="554.2" r="3.4"/>
<circle cx="288.9" cy="555.1" r="3.4"/>
<circle cx="290" cy="550" r="3.4"/>
<circle cx="288.3" cy="548.6" r="3.4"/>
<circle cx="285" cy="547.2" r="3.4"/>
<circle cx="281.5" cy="541.7" r="3.4"/>
<circle cx="279.9" cy="542.1" r="3.4"/>
<circle cx="277" cy="540.4" r="3.4"/>
<circle cx="271.8" cy="541.1" r="3.4"/>
<circle cx="269.4" cy="542.5" r="3.4"/>
<circle cx="268.6" cy="542.7" r="3.4"/>
<circle cx="265" cy="546" r="3.4"/>
<circle cx="260" cy="547.2" r="3.4"/>
<circle cx="260.5" cy="549.8" r="3.4"/>
<circle cx="260" cy="552.9" r="3.4"/>
<circle cx="256.2" cy="554.5" r="3.4"/>
<circle cx="255.2" cy="553.3" r="3.4"/>
<circle cx="252.5" cy="555.9" r="3.4"/>
<circle cx="251.4" cy="557.4" r="3.4"/>
<circle cx="248.5" cy="559.5" r="3.4"/>
<circle cx="245.2" cy="557.1" r="3.4"/>
<circle cx="244.9" cy="559" r="3.4"/>
<circle cx="238.9" cy="559.3" r="3.4"/>
<circle cx="238.4" cy="558.8" r="3.4"/>
<circle cx="232.4" cy="556" r="3.4"/>
<circle cx="229.9" cy="556.6" r="3.4"/>
<circle cx="226.3" cy="554.8" r="3.4"/>
<circle cx="222" cy="553.8" r="3.4"/>
<circle cx="221.1" cy="554.4" r="3.4"/>
<circle cx="218.6" cy="556.7" r="3.4"/>
<circle cx="213.3" cy="555.2" r="3.4"/>
<circle cx="212.5" cy="555.8" r="3.4"/>
<circle cx="207.4" cy="556.6" r="3.4"/>
<circle cx="207.1" cy="555.9" r="3.4"/>
<circle cx="202.9" cy="552.5" r="3.4"/>
<circle cx="200.9" cy="554.9" r="3.4"/>
<circle cx="197.5" cy="552.1" r="3.4"/>
<circle cx="196.1" cy="551.1" r="3.4"/>
<circle cx="192.3" cy="550.8" r="3.4"/>
<circle cx="186.6" cy="550.2" r="3.4"/>
<circle cx="184.4" cy="553.5" r="3.4"/>
<circle cx="180.5" cy="552.6" r="3.4"/>
<circle cx="182.5" cy="553.2" r="3.4"/>
<circle cx="179.2" cy="551.7" r="3.4"/>
<circle cx="178.2" cy="549.9" r="3.4"/>
<circle cx="176.6" cy="549.6" r="3.4"/>
<circle cx="177.2" cy="550.8" r="3.4"/>
<circle cx="179.4" cy="547.7" r="3.4"/>
<circle cx="180.6" cy="545" r="3.4"/>
<circle cx="182.2" cy="543.8" r="3.4"/>
<circle cx="185.1" cy="539.5" r="3.4"/>
<circle cx="184.6" cy="535" r="3.4"/>
<circle cx="184.4" cy="532.9" r="3.4"/>
<circle cx="186.5" cy="530.8" r="3.4"/>
<circle cx="185.8" cy="527.8" r="3.4"/>
<circle cx="189.7" cy="525.5" r="3.4"/>
<circle cx="190.9" cy="521.5" r="3.4"/>
<circle cx="190.5" cy="519.4" r="3.4"/>
<circle cx="193.7" cy="518.1" r="3.4"/>
<circle cx="196.3" cy="512.2" r="3.4"/>
<circle cx="194" cy="508.1" r="3.4"/>
<circle cx="197" cy="505.1" r="3.4"/>
<circle cx="197.6" cy="504.3" r="3.4"/>
<circle cx="197.4" cy="498.2" r="3.4"/>
<circle cx="198.6" cy="497.7" r="3.4"/>
<circle cx="304.1" cy="545.4" r="3.4"/>
<circle cx="302.4" cy="550.4" r="3.4"/>
<circle cx="299.3" cy="550.7" r="3.4"/>
<circle cx="298" cy="554.4" r="3.4"/>
<circle cx="288.8" cy="553.8" r="3.4"/>
<circle cx="289.3" cy="555.3" r="3.4"/>
<circle cx="284.3" cy="552.5" r="3.4"/>
<circle cx="278.2" cy="557.3" r="3.4"/>
<circle cx="278.3" cy="546.6" r="3.4"/>
<circle cx="271.5" cy="545.1" r="3.4"/>
<circle cx="266.2" cy="546.5" r="3.4"/>
<circle cx="263.2" cy="556.6" r="3.4"/>
<circle cx="261.4" cy="553.7" r="3.4"/>
<circle cx="255" cy="558.8" r="3.4"/>
<circle cx="255" cy="559" r="3.4"/>
<circle cx="249.3" cy="564.5" r="3.4"/>
<circle cx="239.4" cy="570.1" r="3.4"/>
<circle cx="226.4" cy="557.3" r="3.4"/>
<circle cx="229.5" cy="559.2" r="3.4"/>
<circle cx="221.2" cy="557.9" r="3.4"/>
<circle cx="215.7" cy="559.9" r="3.4"/>
<circle cx="207.3" cy="557.1" r="3.4"/>
<circle cx="203.8" cy="557.1" r="3.4"/>
<circle cx="201.1" cy="556.8" r="3.4"/>
<circle cx="192.1" cy="557" r="3.4"/>
<circle cx="186.6" cy="557" r="3.4"/>
<circle cx="179.1" cy="556.8" r="3.4"/>
<circle cx="301.6" cy="559.6" r="3.4"/>
</g>
<g fill="#f7b6d2">
<polygon points="71.8,430.2 83.4,435.5 105.2,438.5 105.4,438.5 125.1,443.5 132.8,442.5 133,442.5 133.1,442.5 133.3,442.5 133.4,442.6 133.6,442.6 145.5,447.6 157.3,450.5 169.2,452.5 169.4,452.5 169.5,452.6 177.3,455.2 181.7,447.3 181.8,447.2 181.8,447.1 181.9,447 182,446.9 190,439.9 190.1,439.8 198,433.6 192.7,424.8 192.7,424.8 185.7,412.8 185.6,412.6 185.6,412.5 181.6,400.7 172.8,387.9 172.7,387.7 171.8,386 167.7,382.7 159.6,384.9 151.8,390.2 151.7,390.3 151.6,390.4 151.4,390.4 151.3,390.5 151.1,390.5 150.9,390.5 137,390 125.1,390.5 125,390.5 117.2,390.5 108.5,392.4 99.8,396.8 90.9,402.7 83.2,409 77.3,418.7 71.9,429.5"/>
<circle cx="73.3" cy="430.3" r="3.4"/>
<circle cx="74.4" cy="430.9" r="3.4"/>
<circle cx="76.8" cy="426.7" r="3.4"/>
<circle cx="74.9" cy="423.1" r="3.4"/>
<circle cx="77.8" cy="421.5" r="3.4"/>
<circle cx="79" cy="416.6" r="3.4"/>
<circle cx="80.4" cy="416.4" r="3.4"/>
<circle cx="80.9" cy="413.4" r="3.4"/>
<circle cx="82.5" cy="410.8" r="3.4"/>
<circle cx="85.2" cy="410.4" r="3.4"/>
<circle cx="88.2" cy="409.1" r="3.4"/>
<circle cx="91" cy="405.4" r="3.4"/>
<circle cx="93.4" cy="404.2" r="3.4"/>
<circle cx="94.7" cy="402" r="3.4"/>
<circle cx="97.5" cy="400.7" r="3.4"/>
<circle cx="100.8" cy="400.1" r="3.4"/>
<circle cx="100.6" cy="398.4" r="3.4"/>
<circle cx="104.8" cy="397" r="3.4"/>
<circle cx="108.1" cy="393.7" r="3.4"/>
<circle cx="109.4" cy="394.6" r="3.4"/>
<circle cx="112.9" cy="393.9" r="3.4"/>
<circle cx="117.6" cy="392.6" r="3.4"/>
<circle cx="119.3" cy="392.3" r="3.4"/>
<circle cx="120.9" cy="392" r="3.4"/>
<circle cx="122.9" cy="392.8" r="3.4"/>
<circle cx="127.9" cy="393.4" r="3.4"/>
<circle cx="130.2" cy="392.8" r="3.4"/>
<circle cx="133" cy="393.5" r="3.4"/>
<circle cx="134.7" cy="390.8" r="3.4"/>
<circle cx="138.8" cy="392.7" r="3.4"/>
<circle cx="140.6" cy="390.4" r="3.4"/>
<circle cx="143.8" cy="392" r="3.4"/>
<circle cx="145.8" cy="392.2" r="3.4"/>
<circle cx="150" cy="393" r="3.4"/>
<circle cx="156.3" cy="391.2" r="3.4"/>
<circle cx="156.1" cy="387.2" r="3.4"/>
<circle cx="160.9" cy="386.5" r="3.4"/>
<circle cx="160.9" cy="385.5" r="3.4"/>
<circle cx="163.2" cy="385.3" r="3.4"/>
<circle cx="166.3" cy="383.7" r="3.4"/>
<circle cx="165.8" cy="384.5" r="3.4"/>
<circle cx="169.4" cy="386.6" r="3.4"/>
<circle cx="170.2" cy="387.7" r="3.4"/>
<circle cx="170.9" cy="390.7" r="3.4"/>
<circle cx="172.9" cy="392.2" r="3.4"/>
<circle cx="176.1" cy="395.2" r="3.4"/>
<circle cx="176.6" cy="397.7" r="3.4"/>
<circle cx="179.6" cy="401.9" r="3.4"/>
<circle cx="178.6" cy="401.9" r="3.4"/>
<circle cx="180.5" cy="404.6" r="3.4"/>
<circle cx="182.6" cy="408.4" r="3.4"/>
<circle cx="182.6" cy="412.6" r="3.4"/>
<circle cx="184.9" cy="413.7" r="3.4"/>
<circle cx="187.2" cy="415.6" r="3.4"/>
<circle cx="187.1" cy="421.5" r="3.4"/>
<circle cx="188.5" cy="421.2" r="3.4"/>
<circle cx="190.8" cy="425.6" r="3.4"/>
<circle cx="191.9" cy="427" r="3.4"/>
<circle cx="192.9" cy="429.2" r="3.4"/>
<circle cx="195.4" cy="431.9" r="3.4"/>
<circle cx="197" cy="433.3" r="3.4"/>
<circle cx="198.2" cy="431.8" r="3.4"/>
<circle cx="194.4" cy="432.3" r="3.4"/>
<circle cx="193.9" cy="436.2" r="3.4"/>
<circle cx="189.9" cy="438.1" r="3.4"/>
<circle cx="187.2" cy="440" r="3.4"/>
<circle cx="185.9" cy="441" r="3.4"/>
<circle cx="186" cy="443.8" r="3.4"/>
<circle cx="181.3" cy="445.7" r="3.4"/>
<circle cx="181" cy="447.2" r="3.4"/>
<circle cx="177.5" cy="451.9" r="3.4"/>
<circle cx="176.3" cy="452.5" r="3.4"/>
<circle cx="177.6" cy="453.3" r="3.4"/>
<circle cx="175.1" cy="451.3" r="3.4"/>
<circle cx="171.8" cy="451.3" r="3.4"/>
<circle cx="166.7" cy="450.2" r="3.4"/>
<circle cx="166" cy="451.3" r="3.4"/>
<circle cx="161.1" cy="448.6" r="3.4"/>
<circle cx="159.9" cy="450.2" r="3.4"/>
<circle cx="157.1" cy="448.2" r="3.4"/>
<circle cx="154" cy="447.7" r="3.4"/>
<circle cx="149.6" cy="448.6" r="3.4"/>
<circle cx="148.2" cy="446.6" r="3.4"/>
<circle cx="143.8" cy="443.5" r="3.4"/>
<circle cx="142" cy="444.2" r="3.4"/>
<circle cx="138.6" cy="441.8" r="3.4"/>
<circle cx="136.1" cy="444" r="3.4"/>
<circle cx="131.2" cy="440.7" r="3.4"/>
<circle cx="127.3" cy="441.5" r="3.4"/>
<circle cx="126.8" cy="441.9" r="3.4"/>
<circle cx="123.6" cy="440.7" r="3.4"/>
<circle cx="120.1" cy="440.5" r="3.4"/>
<circle cx="118" cy="440.1" r="3.4"/>
<circle cx="116" cy="437.6" r="3.4"/>
<circle cx="112.1" cy="438" r="3.4"/>
<circle cx="109.7" cy="439.4" r="3.4"/>
<circle cx="108.4" cy="437.9" r="3.4"/>
<circle cx="104" cy="438.1" r="3.4"/>
<circle cx="99.8" cy="437.9" r="3.4"/>
<circle cx="98.4" cy="434.7" r="3.4"/>
<circle cx="95.6" cy="436.4" r="3.4"/>
<circle cx="91.7" cy="435.9" r="3.4"/>
<circle cx="89.1" cy="434.7" r="3.4"/>
<circle cx="86.6" cy="433.3" r="3.4"/>
<circle cx="82.2" cy="435" r="3.4"/>
<circle cx="81.5" cy="432.3" r="3.4"/>
<circle cx="77.7" cy="429.1" r="3.4"/>
<circle cx="76.7" cy="429.3" r="3.4"/>
<circle cx="73.2" cy="427.4" r="3.4"/>
<circle cx="70.5" cy="426.6" r="3.4"/>
<circle cx="73.2" cy="424.2" r="3.4"/>
<circle cx="72.6" cy="425.9" r="3.4"/>
<circle cx="76.9" cy="415.3" r="3.4"/>
<circle cx="79.3" cy="409.3" r="3.4"/>
<circle cx="78.7" cy="411.3" r="3.4"/>
<circle cx="80.3" cy="404.4" r="3.4"/>
<circle cx="84.9" cy="402.5" r="3.4"/>
<circle cx="93.8" cy="396.2" r="3.4"/>
<circle cx="91.1" cy="400.3" r="3.4"/>
<circle cx="99.5" cy="396" r="3.4"/>
<circle cx="96.7" cy="386.9" r="3.4"/>
<circle cx="116.5" cy="389" r="3.4"/>
<circle cx="107.7" cy="387.1" r="3.4"/>
<circle cx="118" cy="388.5" r="3.4"/>
<circle cx="122.2" cy="380.9" r="3.4"/>
<circle cx="132.9" cy="389.5" r="3.4"/>
<circle cx="128.5" cy="385.5" r="3.4"/>
<circle cx="126.2" cy="388.6" r="3.4"/>
<circle cx="147" cy="387.2" r="3.4"/>
<circle cx="146.6" cy="388.3" r="3.4"/>
<circle cx="144.8" cy="386.6" r="3.4"/>
<circle cx="143.3" cy="389.2" r="3.4"/>
<circle cx="156.5" cy="382.2" r="3.4"/>
<circle cx="155" cy="382.9" r="3.4"/>
<circle cx="154.9" cy="387.3" r="3.4"/>
<circle cx="159.5" cy="375.3" r="3.4"/>
<circle cx="158.6" cy="375.7" r="3.4"/>
<circle cx="168.7" cy="381.5" r="3.4"/>
<circle cx="177" cy="376.7" r="3.4"/>
<circle cx="49.4" cy="332.4" r="3.4"/>
<circle cx="131" cy="367.6" r="3.4"/>
<circle cx="105" cy="380.6" r="3.4"/>
<circle cx="90" cy="383" r="3.4"/>
<circle cx="125.6" cy="385" r="3.4"/>
<circle cx="68" cy="387" r="3.4"/>
<circle cx="79" cy="388.6" r="3.4"/>
<circle cx="62.4" cy="392" r="3.4"/>
<circle cx="64.4" cy="399" r="3.4"/>
<circle cx="89" cy="396" r="3.4"/>
<circle cx="55" cy="404.4" r="3.4"/>
<circle cx="73" cy="402" r="3.4"/>
<circle cx="76" cy="407" r="3.4"/>
<circle cx="90" cy="403" r="3.4"/>
<circle cx="68.4" cy="410" r="3.4"/>
<circle cx="76" cy="415" r="3.4"/>
<circle cx="65" cy="424" r="3.4"/>
<circle cx="55.4" cy="429.4" r="3.4"/>
<circle cx="73" cy="424" r="3.4"/>
<circle cx="85" cy="410" r="3.4"/>
<circle cx="151" cy="363.6" r="3.4"/>
<circle cx="147.6" cy="374" r="3.4"/>
<circle cx="148" cy="386.4" r="3.4"/>
<circle cx="163" cy="380" r="3.4"/>
<circle cx="165" cy="383" r="3.4"/>
</g>
<g fill="#c7c7c7">
<polygon points="178.9,458.7 187.5,461.6 187.7,461.7 195.4,465.5 205.1,466.5 215,466.5 215.1,466.5 215.3,466.5 215.4,466.6 215.6,466.6 215.7,466.7 215.8,466.8 216,466.8 216.1,466.9 218.3,469.1 219.6,464.6 219.6,464.4 219.7,464.3 219.8,464.2 219.9,464 220,463.9 220.1,463.8 220.2,463.7 228.2,458.7 228.3,458.7 236.3,454.7 236.5,454.6 236.6,454.5 236.8,454.5 240.9,454 240.8,453.9 240.7,453.8 240.7,453.7 237.3,446.9 233.6,448.4 233.4,448.4 233.3,448.5 233.2,448.5 233,448.5 232.9,448.5 232.7,448.5 232.6,448.4 232.5,448.4 224.5,445.4 224.4,445.4 214.6,441.5 204.9,440.5 204.7,440.5 204.6,440.4 204.4,440.4 204.3,440.3 204.2,440.2 204,440.2 203.9,440.1 199.9,436 192,442.2 184.2,449 179.4,457.6"/>
<circle cx="198.5" cy="437.7" r="3.4"/>
<circle cx="201.4" cy="442.3" r="3.4"/>
<circle cx="207.2" cy="442.2" r="3.4"/>
<circle cx="208.7" cy="440.8" r="3.4"/>
<circle cx="214.6" cy="443.2" r="3.4"/>
<circle cx="216" cy="442.5" r="3.4"/>
<circle cx="218" cy="446.5" r="3.4"/>
<circle cx="220.8" cy="444.9" r="3.4"/>
<circle cx="224.4" cy="445.3" r="3.4"/>
<circle cx="225.1" cy="448.2" r="3.4"/>
<circle cx="228.5" cy="448.7" r="3.4"/>
<circle cx="230.3" cy="451.2" r="3.4"/>
<circle cx="234.4" cy="449.9" r="3.4"/>
<circle cx="238" cy="447.6" r="3.4"/>
<circle cx="236.6" cy="447.6" r="3.4"/>
<circle cx="238.9" cy="451.1" r="3.4"/>
<circle cx="236.5" cy="452.6" r="3.4"/>
<circle cx="242" cy="456.6" r="3.4"/>
<circle cx="241.9" cy="450.8" r="3.4"/>
<circle cx="240.8" cy="451.6" r="3.4"/>
<circle cx="238.6" cy="453.4" r="3.4"/>
<circle cx="233.3" cy="453.7" r="3.4"/>
<circle cx="231.3" cy="454.4" r="3.4"/>
<circle cx="230.1" cy="456.2" r="3.4"/>
<circle cx="225" cy="458.7" r="3.4"/>
<circle cx="223.5" cy="458.5" r="3.4"/>
<circle cx="222" cy="462.7" r="3.4"/>
<circle cx="218.8" cy="466.6" r="3.4"/>
<circle cx="216.4" cy="468.7" r="3.4"/>
<circle cx="220.7" cy="469.6" r="3.4"/>
<circle cx="218.1" cy="467.1" r="3.4"/>
<circle cx="211.9" cy="465.1" r="3.4"/>
<circle cx="209.9" cy="465.1" r="3.4"/>
<circle cx="208.1" cy="466" r="3.4"/>
<circle cx="205" cy="466" r="3.4"/>
<circle cx="199.2" cy="463" r="3.4"/>
<circle cx="197.7" cy="462.3" r="3.4"/>
<circle cx="195.5" cy="463.6" r="3.4"/>
<circle cx="193.7" cy="462.2" r="3.4"/>
<circle cx="190.4" cy="460.6" r="3.4"/>
<circle cx="186.7" cy="459.3" r="3.4"/>
<circle cx="181.7" cy="459.5" r="3.4"/>
<circle cx="180" cy="457.3" r="3.4"/>
<circle cx="179.8" cy="462.2" r="3.4"/>
<circle cx="178.9" cy="462.7" r="3.4"/>
<circle cx="180.3" cy="459.6" r="3.4"/>
<circle cx="182.2" cy="459.3" r="3.4"/>
<circle cx="183.4" cy="455.6" r="3.4"/>
<circle cx="185.9" cy="450.7" r="3.4"/>
<circle cx="186.8" cy="451.1" r="3.4"/>
<circle cx="188" cy="447.4" r="3.4"/>
<circle cx="191.2" cy="446.8" r="3.4"/>
<circle cx="191.9" cy="444.3" r="3.4"/>
<circle cx="194.3" cy="440.6" r="3.4"/>
<circle cx="197.5" cy="441.4" r="3.4"/>
<circle cx="198.9" cy="439.4" r="3.4"/>
<circle cx="199.3" cy="437.2" r="3.4"/>
</g>
<g fill="#dbdb8d">
<polygon points="71,433.1 69.4,438.4 67.5,446.3 65.5,460.4 69.4,484.1 75.5,488.5 86.2,488.5 102.4,485.5 102.5,485.5 118.8,483.5 119,483.5 119.1,483.5 134.8,484.5 146.5,480.6 146.6,480.5 146.8,480.5 158.7,478.5 165.6,476.8 166.5,469.8 166.5,469.7 166.6,469.5 166.6,469.4 166.7,469.3 166.8,469.2 166.8,469 166.9,468.9 174.7,461.2 176,457.9 168.6,455.5 156.8,453.5 156.6,453.5 144.6,450.5 144.5,450.4 144.4,450.4 132.8,445.5 125.2,446.5 125,446.5 124.9,446.5 124.8,446.5 124.6,446.5 104.7,441.5 82.8,438.5 82.7,438.5 82.5,438.4 82.4,438.4"/>
<circle cx="71.3" cy="433.9" r="3.4"/>
<circle cx="73" cy="434.6" r="3.4"/>
<circle cx="75.3" cy="436.7" r="3.4"/>
<circle cx="79.1" cy="437.9" r="3.4"/>
<circle cx="79.8" cy="439.6" r="3.4"/>
<circle cx="83.6" cy="438.3" r="3.4"/>
<circle cx="87.2" cy="441.5" r="3.4"/>
<circle cx="89.4" cy="442.1" r="3.4"/>
<circle cx="92.2" cy="441.7" r="3.4"/>
<circle cx="97.2" cy="441.9" r="3.4"/>
<circle cx="99.5" cy="443" r="3.4"/>
<circle cx="101.4" cy="443.4" r="3.4"/>
<circle cx="106.1" cy="444.7" r="3.4"/>
<circle cx="108.3" cy="443.3" r="3.4"/>
<circle cx="111" cy="442.9" r="3.4"/>
<circle cx="114.8" cy="446.3" r="3.4"/>
<circle cx="115.6" cy="446.2" r="3.4"/>
<circle cx="120.9" cy="446.5" r="3.4"/>
<circle cx="123.3" cy="448.9" r="3.4"/>
<circle cx="127.9" cy="448" r="3.4"/>
<circle cx="129.4" cy="446.1" r="3.4"/>
<circle cx="131.3" cy="445.6" r="3.4"/>
<circle cx="131.4" cy="447.9" r="3.4"/>
<circle cx="136.5" cy="450.7" r="3.4"/>
<circle cx="139.9" cy="448.8" r="3.4"/>
<circle cx="143.2" cy="451.8" r="3.4"/>
<circle cx="144.8" cy="453.2" r="3.4"/>
<circle cx="148.1" cy="454.4" r="3.4"/>
<circle cx="152.1" cy="454.8" r="3.4"/>
<circle cx="156.2" cy="455.2" r="3.4"/>
<circle cx="156.7" cy="455.3" r="3.4"/>
<circle cx="162.7" cy="454.6" r="3.4"/>
<circle cx="164.1" cy="454.4" r="3.4"/>
<circle cx="165.9" cy="457.9" r="3.4"/>
<circle cx="168.7" cy="458.2" r="3.4"/>
<circle cx="171.9" cy="458.3" r="3.4"/>
<circle cx="175" cy="460" r="3.4"/>
<circle cx="174.4" cy="455.8" r="3.4"/>
<circle cx="172.9" cy="460" r="3.4"/>
<circle cx="172" cy="461.3" r="3.4"/>
<circle cx="170.7" cy="462.3" r="3.4"/>
<circle cx="168.3" cy="464.8" r="3.4"/>
<circle cx="165.3" cy="467.1" r="3.4"/>
<circle cx="166.4" cy="471.3" r="3.4"/>
<circle cx="164.1" cy="474" r="3.4"/>
<circle cx="164.5" cy="475.2" r="3.4"/>
<circle cx="163.9" cy="475.2" r="3.4"/>
<circle cx="162.7" cy="476.4" r="3.4"/>
<circle cx="159" cy="476.4" r="3.4"/>
<circle cx="157.3" cy="476.4" r="3.4"/>
<circle cx="153.1" cy="477" r="3.4"/>
<circle cx="152.4" cy="478.9" r="3.4"/>
<circle cx="146.5" cy="477.3" r="3.4"/>
<circle cx="145.5" cy="477.6" r="3.4"/>
<circle cx="141" cy="480.2" r="3.4"/>
<circle cx="138.3" cy="482.4" r="3.4"/>
<circle cx="136.7" cy="481.8" r="3.4"/>
<circle cx="134.7" cy="484.7" r="3.4"/>
<circle cx="131.2" cy="481.2" r="3.4"/>
<circle cx="126.7" cy="481" r="3.4"/>
<circle cx="124.3" cy="481.9" r="3.4"/>
<circle cx="121.9" cy="481.6" r="3.4"/>
<circle cx="117" cy="482.3" r="3.4"/>
<circle cx="114.9" cy="482.5" r="3.4"/>
<circle cx="109.8" cy="481.3" r="3.4"/>
<circle cx="108.5" cy="481.5" r="3.4"/>
<circle cx="105.5" cy="485.3" r="3.4"/>
<circle cx="101" cy="485.9" r="3.4"/>
<circle cx="97.7" cy="484.1" r="3.4"/>
<circle cx="94.4" cy="484.6" r="3.4"/>
<circle cx="91.3" cy="485.7" r="3.4"/>
<circle cx="89.8" cy="484.8" r="3.4"/>
<circle cx="86.7" cy="488.1" r="3.4"/>
<circle cx="84.3" cy="488.8" r="3.4"/>
<circle cx="81.2" cy="487.9" r="3.4"/>
<circle cx="78.7" cy="485.1" r="3.4"/>
<circle cx="76" cy="488.4" r="3.4"/>
<circle cx="77" cy="486.6" r="3.4"/>
<circle cx="73.2" cy="485.5" r="3.4"/>
<circle cx="71.5" cy="482.4" r="3.4"/>
<circle cx="72.4" cy="482.3" r="3.4"/>
<circle cx="69.2" cy="480.5" r="3.4"/>
<circle cx="69.9" cy="476.5" r="3.4"/>
<circle cx="70.5" cy="472.3" r="3.4"/>
<circle cx="69.5" cy="469.1" r="3.4"/>
<circle cx="66.8" cy="467.4" r="3.4"/>
<circle cx="68" cy="463.9" r="3.4"/>
<circle cx="66.8" cy="460.3" r="3.4"/>
<circle cx="67" cy="460" r="3.4"/>
<circle cx="69.1" cy="456.6" r="3.4"/>
<circle cx="67.8" cy="453.6" r="3.4"/>
<circle cx="66.6" cy="450.6" r="3.4"/>
<circle cx="67.4" cy="446.8" r="3.4"/>
<circle cx="69.9" cy="445.6" r="3.4"/>
<circle cx="69.9" cy="443.1" r="3.4"/>
<circle cx="68.9" cy="440.9" r="3.4"/>
<circle cx="71.4" cy="435.7" r="3.4"/>
<circle cx="73" cy="435.6" r="3.4"/>
<circle cx="67.8" cy="491.1" r="3.4"/>
<circle cx="67.3" cy="486.7" r="3.4"/>
<circle cx="66.7" cy="474.2" r="3.4"/>
<circle cx="68.1" cy="482" r="3.4"/>
<circle cx="65.3" cy="479" r="3.4"/>
<circle cx="65.6" cy="466.8" r="3.4"/>
<circle cx="63.2" cy="464.1" r="3.4"/>
<circle cx="60.9" cy="469.6" r="3.4"/>
<circle cx="56.9" cy="445.9" r="3.4"/>
<circle cx="63.6" cy="459.3" r="3.4"/>
<circle cx="63.4" cy="443.2" r="3.4"/>
<circle cx="68.3" cy="438.9" r="3.4"/>
<circle cx="64.4" cy="429.6" r="3.4"/>
<circle cx="62" cy="432" r="3.4"/>
<circle cx="61" cy="437" r="3.4"/>
<circle cx="51.2" cy="449.2" r="3.4"/>
<circle cx="58.7" cy="450.2" r="3.4"/>
<circle cx="55.7" cy="457.4" r="3.4"/>
<circle cx="48.5" cy="466.6" r="3.4"/>
<circle cx="52.6" cy="467.6" r="3.4"/>
<circle cx="59.8" cy="470.7" r="3.4"/>
<circle cx="62.8" cy="477.8" r="3.4"/>
<circle cx="61.8" cy="483" r="3.4"/>
<circle cx="53.6" cy="493.6" r="3.4"/>
<circle cx="57.7" cy="492.8" r="3.4"/>
<circle cx="64" cy="445" r="3.4"/>
</g>
<g fill="#9edae5">
<polygon points="314.5,395.5 305.9,401.2 285.9,417.2 285.8,417.2 273.8,425.2 273.8,425.3 265.8,430.3 255.9,437.2 255.7,437.3 243.7,443.3 240,445.6 243.2,452 245.8,453.8 246,453.8 251.8,458.7 261.6,463.6 271.2,467.5 276.8,466.5 276.9,466.5 277,466.5 277.2,466.5 277.3,466.5 277.5,466.6 277.6,466.6 277.7,466.7 277.9,466.8 278,466.9 278.1,467 278.2,467.1 278.3,467.2 278.3,467.3 279.6,469.9 286.2,465.7 286.3,465.7 286.5,465.6 286.6,465.6 286.7,465.5 286.9,465.5 296.7,464.5 304.5,461.6 304.6,461.6 304.7,461.5 304.9,461.5 305,461.5 314.5,461.5 320.2,457.8 320.3,457.7 320.4,457.6 320.5,457.6 320.7,457.5 320.8,457.5 321,457.5 333.8,457.2 350.4,453.5 350.4,453.5 366.9,450.1 378.4,446.6 383.3,443.5 383.1,443.4 383,443.4 382.8,443.3 382.7,443.3 382.6,443.2 382.5,443.1 382.4,443 382.3,442.9 382.2,442.8 376.8,433.9 370.1,425.8 358.6,422.4 358.4,422.4 358.3,422.3 358.2,422.3 358.1,422.2 357.9,422.1 357.8,422 357.8,421.8 351.9,413.1 341.2,406.3 341.1,406.2 330.9,398.5 330.8,398.4 330.7,398.3 330.6,398.2 330.5,398.1 330.4,397.9 330.4,397.8 330.3,397.7 330,396.4 325.8,399.2 325.7,399.3 325.6,399.4 325.4,399.4 325.3,399.5 325.2,399.5 325,399.5 324.9,399.5 324.7,399.5 324.6,399.4 324.5,399.4 324.3,399.3 316.6,395.5"/>
<circle cx="315.4" cy="396.7" r="3.4"/>
<circle cx="317.7" cy="397.9" r="3.4"/>
<circle cx="318.1" cy="398.6" r="3.4"/>
<circle cx="322.1" cy="399.9" r="3.4"/>
<circle cx="328.4" cy="401.6" r="3.4"/>
<circle cx="331.9" cy="396.8" r="3.4"/>
<circle cx="326.8" cy="397.5" r="3.4"/>
<circle cx="331" cy="400.9" r="3.4"/>
<circle cx="334.4" cy="403.6" r="3.4"/>
<circle cx="335.1" cy="405.4" r="3.4"/>
<circle cx="339.8" cy="407.8" r="3.4"/>
<circle cx="342.2" cy="410.4" r="3.4"/>
<circle cx="342.8" cy="411.1" r="3.4"/>
<circle cx="348.3" cy="413.1" r="3.4"/>
<circle cx="348.9" cy="413.7" r="3.4"/>
<circle cx="351.2" cy="416.1" r="3.4"/>
<circle cx="351" cy="417.2" r="3.4"/>
<circle cx="352.4" cy="419.3" r="3.4"/>
<circle cx="357" cy="421.5" r="3.4"/>
<circle cx="359.5" cy="425.5" r="3.4"/>
<circle cx="361.2" cy="425.5" r="3.4"/>
<circle cx="365.8" cy="425.3" r="3.4"/>
<circle cx="367.7" cy="426.7" r="3.4"/>
<circle cx="369.8" cy="425.5" r="3.4"/>
<circle cx="372" cy="428.4" r="3.4"/>
<circle cx="372.4" cy="433.7" r="3.4"/>
<circle cx="374.6" cy="434.1" r="3.4"/>
<circle cx="375.3" cy="435.4" r="3.4"/>
<circle cx="378.1" cy="438.8" r="3.4"/>
<circle cx="378.3" cy="440.8" r="3.4"/>
<circle cx="379.2" cy="442.6" r="3.4"/>
<circle cx="383.8" cy="445.9" r="3.4"/>
<circle cx="383.7" cy="441.2" r="3.4"/>
<circle cx="380.9" cy="444.3" r="3.4"/>
<circle cx="378.4" cy="446.7" r="3.4"/>
<circle cx="377.7" cy="444" r="3.4"/>
<circle cx="372.2" cy="446" r="3.4"/>
<circle cx="369.2" cy="447" r="3.4"/>
<circle cx="368.2" cy="447.7" r="3.4"/>
<circle cx="366.5" cy="448.2" r="3.4"/>
<circle cx="363.6" cy="448.3" r="3.4"/>
<circle cx="360.7" cy="448.1" r="3.4"/>
<circle cx="357.8" cy="450.3" r="3.4"/>
<circle cx="354.9" cy="451.2" r="3.4"/>
<circle cx="352.2" cy="450.9" r="3.4"/>
<circle cx="350.2" cy="453.7" r="3.4"/>
<circle cx="344.4" cy="451.5" r="3.4"/>
<circle cx="342.4" cy="453.8" r="3.4"/>
<circle cx="339.2" cy="454.3" r="3.4"/>
<circle cx="337.1" cy="456.4" r="3.4"/>
<circle cx="333.3" cy="454.8" r="3.4"/>
<circle cx="331.4" cy="455.6" r="3.4"/>
<circle cx="329.1" cy="454.5" r="3.4"/>
<circle cx="325.9" cy="454.5" r="3.4"/>
<circle cx="323.7" cy="456" r="3.4"/>
<circle cx="320.1" cy="458.1" r="3.4"/>
<circle cx="313.4" cy="459.8" r="3.4"/>
<circle cx="313.4" cy="459.9" r="3.4"/>
<circle cx="308.3" cy="460.1" r="3.4"/>
<circle cx="306.6" cy="458.4" r="3.4"/>
<circle cx="302" cy="460.3" r="3.4"/>
<circle cx="299.6" cy="460.6" r="3.4"/>
<circle cx="296.4" cy="461.8" r="3.4"/>
<circle cx="294.7" cy="464.6" r="3.4"/>
<circle cx="291.9" cy="463" r="3.4"/>
<circle cx="289" cy="463.6" r="3.4"/>
<circle cx="284.2" cy="464" r="3.4"/>
<circle cx="280.6" cy="467.2" r="3.4"/>
<circle cx="278.2" cy="468.1" r="3.4"/>
<circle cx="282.2" cy="470" r="3.4"/>
<circle cx="273.9" cy="465.2" r="3.4"/>
<circle cx="271" cy="467.7" r="3.4"/>
<circle cx="270.8" cy="465" r="3.4"/>
<circle cx="269.8" cy="464.3" r="3.4"/>
<circle cx="266.7" cy="462.6" r="3.4"/>
<circle cx="263.1" cy="461.9" r="3.4"/>
<circle cx="261" cy="462.5" r="3.4"/>
<circle cx="258.2" cy="458.8" r="3.4"/>
<circle cx="255.6" cy="460.1" r="3.4"/>
<circle cx="253.2" cy="455.6" r="3.4"/>
<circle cx="253.3" cy="457" r="3.4"/>
<circle cx="250.7" cy="455.7" r="3.4"/>
<circle cx="247.3" cy="452.5" r="3.4"/>
<circle cx="245.1" cy="449.2" r="3.4"/>
<circle cx="244.1" cy="451" r="3.4"/>
<circle cx="243.1" cy="447.6" r="3.4"/>
<circle cx="242.6" cy="444.9" r="3.4"/>
<circle cx="240.9" cy="446.3" r="3.4"/>
<circle cx="243.9" cy="445.5" r="3.4"/>
<circle cx="244.2" cy="443.3" r="3.4"/>
<circle cx="248" cy="444.1" r="3.4"/>
<circle cx="252.6" cy="439" r="3.4"/>
<circle cx="253.2" cy="439.1" r="3.4"/>
<circle cx="258.2" cy="438.5" r="3.4"/>
<circle cx="261.1" cy="435.7" r="3.4"/>
<circle cx="263" cy="432.9" r="3.4"/>
<circle cx="264.6" cy="432.8" r="3.4"/>
<circle cx="267.5" cy="431.1" r="3.4"/>
<circle cx="270.4" cy="429.3" r="3.4"/>
<circle cx="273.1" cy="426.6" r="3.4"/>
<circle cx="275.5" cy="425.5" r="3.4"/>
<circle cx="277" cy="423.9" r="3.4"/>
<circle cx="280.1" cy="423" r="3.4"/>
<circle cx="282.4" cy="420" r="3.4"/>
<circle cx="284.2" cy="419.6" r="3.4"/>
<circle cx="288.5" cy="416.6" r="3.4"/>
<circle cx="290.8" cy="417.5" r="3.4"/>
<circle cx="294" cy="412.5" r="3.4"/>
<circle cx="294.5" cy="412.4" r="3.4"/>
<circle cx="299.2" cy="408.3" r="3.4"/>
<circle cx="301.8" cy="407.1" r="3.4"/>
<circle cx="303.6" cy="404" r="3.4"/>
<circle cx="304.2" cy="403.4" r="3.4"/>
<circle cx="306.5" cy="400.9" r="3.4"/>
<circle cx="311.1" cy="400.2" r="3.4"/>
<circle cx="311.3" cy="398.7" r="3.4"/>
<circle cx="314.5" cy="399.3" r="3.4"/>
<circle cx="315.5" cy="394.2" r="3.4"/>
<circle cx="318.5" cy="395.3" r="3.4"/>
<circle cx="325.1" cy="388" r="3.4"/>
<circle cx="321.6" cy="395.7" r="3.4"/>
<circle cx="321.9" cy="389.2" r="3.4"/>
<circle cx="329.7" cy="395.9" r="3.4"/>
<circle cx="332.1" cy="395.6" r="3.4"/>
<circle cx="340.2" cy="404.7" r="3.4"/>
<circle cx="343.9" cy="401.2" r="3.4"/>
<circle cx="341" cy="399.1" r="3.4"/>
<circle cx="344.1" cy="403" r="3.4"/>
<circle cx="347.7" cy="409.2" r="3.4"/>
<circle cx="356.3" cy="403.4" r="3.4"/>
<circle cx="359.7" cy="412.6" r="3.4"/>
<circle cx="361.8" cy="409" r="3.4"/>
<circle cx="355.3" cy="412" r="3.4"/>
<circle cx="361.4" cy="420.8" r="3.4"/>
<circle cx="370.2" cy="417.8" r="3.4"/>
<circle cx="370.7" cy="424.6" r="3.4"/>
<circle cx="370.2" cy="425" r="3.4"/>
<circle cx="378.2" cy="429.9" r="3.4"/>
<circle cx="373.6" cy="429" r="3.4"/>
<circle cx="374.8" cy="427.9" r="3.4"/>
<circle cx="373.8" cy="429" r="3.4"/>
<circle cx="382.2" cy="437.5" r="3.4"/>
<circle cx="378.8" cy="433.1" r="3.4"/>
<circle cx="382.6" cy="436.4" r="3.4"/>
<circle cx="384.7" cy="440.9" r="3.4"/>
<circle cx="394.5" cy="378.4" r="3.4"/>
<circle cx="349.5" cy="384.3" r="3.4"/>
<circle cx="339.4" cy="386.6" r="3.4"/>
<circle cx="358.5" cy="389.7" r="3.4"/>
<circle cx="349.5" cy="393.7" r="3.4"/>
<circle cx="362.5" cy="397.3" r="3.4"/>
<circle cx="365" cy="403" r="3.4"/>
<circle cx="356.6" cy="405.5" r="3.4"/>
<circle cx="422.8" cy="396" r="3.4"/>
<circle cx="417" cy="399.6" r="3.4"/>
<circle cx="414" cy="406" r="3.4"/>
<circle cx="379" cy="409" r="3.4"/>
<circle cx="399" cy="416.7" r="3.4"/>
<circle cx="383.8" cy="417.4" r="3.4"/>
<circle cx="370.8" cy="418.5" r="3.4"/>
<circle cx="401.5" cy="428" r="3.4"/>
<circle cx="398" cy="430.4" r="3.4"/>
<circle cx="417" cy="439.3" r="3.4"/>
<circle cx="381.5" cy="428" r="3.4"/>
<circle cx="383.8" cy="435" r="3.4"/>
</g>
<g fill="#000" fill-opacity="0.55" stroke="#000" stroke-opacity="0.5" stroke-width="0.9">
<circle cx="168.4" cy="437.6" r="4.35"/>
<circle cx="228.4" cy="429" r="4.35"/>
<circle cx="208.4" cy="455" r="4.35"/>
<circle cx="149" cy="465.6" r="4.35"/>
<circle cx="194" cy="478" r="4.35"/>
<circle cx="163" cy="497.6" r="4.35"/>
<circle cx="227.6" cy="504.6" r="4.35"/>
<circle cx="275" cy="449" r="4.35"/>
<circle cx="243" cy="474" r="4.35"/>
<circle cx="305" cy="487" r="4.35"/>
</g>
</g>
<rect x="487.9" y="327.4" width="46.5" height="163.8" rx="2.2" fill="#fff" fill-opacity="0.8" stroke="#d2d2d2" stroke-width="0.9"/>
<circle cx="503.6" cy="335.4" r="2.4" fill="#1f77b4"/>
<text x="518.2" y="342.2" font-size="16.8">0</text>
<circle cx="503.6" cy="351.5" r="2.4" fill="#ff7f0e"/>
<text x="518.2" y="358.3" font-size="16.8">1</text>
<circle cx="503.6" cy="367.7" r="2.4" fill="#2ca02c"/>
<text x="518.2" y="374.5" font-size="16.8">2</text>
<circle cx="503.6" cy="383.8" r="2.4" fill="#d62728"/>
<text x="518.2" y="390.6" font-size="16.8">3</text>
<circle cx="503.6" cy="399.9" r="2.4" fill="#9467bd"/>
<text x="518.2" y="406.7" font-size="16.8">4</text>
<circle cx="503.6" cy="416" r="2.4" fill="#c49c94"/>
<text x="518.2" y="422.8" font-size="16.8">5</text>
<circle cx="503.6" cy="432.2" r="2.4" fill="#f7b6d2"/>
<text x="518.2" y="439" font-size="16.8">6</text>
<circle cx="503.6" cy="448.3" r="2.4" fill="#c7c7c7"/>
<text x="518.2" y="455.1" font-size="16.8">7</text>
<circle cx="503.6" cy="464.4" r="2.4" fill="#dbdb8d"/>
<text x="518.2" y="471.2" font-size="16.8">8</text>
<circle cx="503.6" cy="480.6" r="2.4" fill="#9edae5"/>
<text x="518.2" y="487.4" font-size="16.8">9</text>
<line x1="25" y1="321.4" x2="540.9" y2="321.4" stroke="#767676" stroke-width="1.2"/><line x1="540.4" y1="321.4" x2="540.4" y2="571.8" stroke="#767676" stroke-width="1.2"/><line x1="25" y1="571.8" x2="540.9" y2="571.8" stroke="#8a8a8a" stroke-width="1.5"/><line x1="25.5" y1="321.4" x2="25.5" y2="571.8" stroke="#707070" stroke-width="1.1"/>
<text x="21.4" y="350" font-size="19.6" text-anchor="end">8</text>
<text x="21.4" y="381" font-size="19.6" text-anchor="end">6</text>
<text x="21.4" y="412.1" font-size="19.6" text-anchor="end">4</text>
<text x="21.4" y="443.1" font-size="19.6" text-anchor="end">2</text>
<text x="21.4" y="474.1" font-size="19.6" text-anchor="end">0</text>
<text x="21.4" y="505.1" font-size="19.6" text-anchor="end">-2</text>
<text x="21.4" y="536.2" font-size="19.6" text-anchor="end">-4</text>
<text x="21.4" y="567.2" font-size="19.6" text-anchor="end">-6</text>
<text x="35" y="589" font-size="19.6" text-anchor="middle">-6</text>
<text x="92.2" y="589" font-size="19.6" text-anchor="middle">-4</text>
<text x="148.1" y="589" font-size="19.6" text-anchor="middle">-2</text>
<text x="211.7" y="589" font-size="19.6" text-anchor="middle">0</text>
<text x="266.6" y="589" font-size="19.6" text-anchor="middle">2</text>
<text x="326.6" y="589" font-size="19.6" text-anchor="middle">4</text>
<text x="381.9" y="589" font-size="19.6" text-anchor="middle">6</text>
<text x="437.5" y="589" font-size="19.6" text-anchor="middle">8</text>
<text x="497.2" y="589" font-size="19.6" text-anchor="middle">10</text>
<g stroke="#666" stroke-width="0.9"><line x1="23.1" y1="344.2" x2="25.5" y2="344.2"/><line x1="23.1" y1="375" x2="25.5" y2="375"/><line x1="23.1" y1="405.7" x2="25.5" y2="405.7"/><line x1="23.1" y1="436.5" x2="25.5" y2="436.5"/><line x1="23.1" y1="467.3" x2="25.5" y2="467.3"/><line x1="23.1" y1="498" x2="25.5" y2="498"/><line x1="23.1" y1="528.8" x2="25.5" y2="528.8"/><line x1="23.1" y1="559.6" x2="25.5" y2="559.6"/><line x1="37.6" y1="571.8" x2="37.6" y2="574.1999999999999"/><line x1="94.8" y1="571.8" x2="94.8" y2="574.1999999999999"/><line x1="152.1" y1="571.8" x2="152.1" y2="574.1999999999999"/><line x1="209.3" y1="571.8" x2="209.3" y2="574.1999999999999"/><line x1="266.6" y1="571.8" x2="266.6" y2="574.1999999999999"/><line x1="323.9" y1="571.8" x2="323.9" y2="574.1999999999999"/><line x1="381.1" y1="571.8" x2="381.1" y2="574.1999999999999"/><line x1="438.4" y1="571.8" x2="438.4" y2="574.1999999999999"/><line x1="495.6" y1="571.8" x2="495.6" y2="574.1999999999999"/></g>
<text x="306.2" y="628.8" font-size="13.6" text-anchor="middle">(<tspan font-weight="bold">b</tspan>)</text>
</svg>
</body></html>
